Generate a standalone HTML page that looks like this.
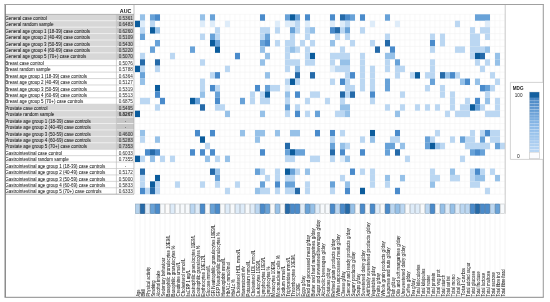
<!DOCTYPE html>
<html><head><meta charset="utf-8"><style>
html,body{margin:0;padding:0;background:#fff;}
body{width:550px;height:302px;position:relative;overflow:hidden;}
svg{position:absolute;left:0;top:0;}
text{font-family:"Liberation Sans",Arial,sans-serif;}
</style></head><body>
<svg width="550" height="302" viewBox="0 0 550 302">
<rect x="5.5" y="14.30" width="111" height="6.42" fill="#d7d7d7"/>
<rect x="116.5" y="14.30" width="17.5" height="6.42" fill="#c6c6c6"/>
<rect x="5.5" y="20.73" width="111" height="6.42" fill="#d7d7d7"/>
<rect x="116.5" y="20.73" width="17.5" height="6.42" fill="#c6c6c6"/>
<rect x="5.5" y="27.15" width="111" height="6.42" fill="#d7d7d7"/>
<rect x="116.5" y="27.15" width="17.5" height="6.42" fill="#c6c6c6"/>
<rect x="5.5" y="33.58" width="111" height="6.42" fill="#d7d7d7"/>
<rect x="116.5" y="33.58" width="17.5" height="6.42" fill="#c6c6c6"/>
<rect x="5.5" y="40.00" width="111" height="6.42" fill="#d7d7d7"/>
<rect x="116.5" y="40.00" width="17.5" height="6.42" fill="#c6c6c6"/>
<rect x="5.5" y="46.42" width="111" height="6.42" fill="#d7d7d7"/>
<rect x="116.5" y="46.42" width="17.5" height="6.42" fill="#c6c6c6"/>
<rect x="5.5" y="52.85" width="111" height="6.42" fill="#d7d7d7"/>
<rect x="116.5" y="52.85" width="17.5" height="6.42" fill="#c6c6c6"/>
<rect x="5.5" y="104.25" width="111" height="6.42" fill="#d7d7d7"/>
<rect x="116.5" y="104.25" width="17.5" height="6.42" fill="#c6c6c6"/>
<rect x="5.5" y="110.67" width="111" height="6.42" fill="#d7d7d7"/>
<rect x="116.5" y="110.67" width="17.5" height="6.42" fill="#c6c6c6"/>
<rect x="5.5" y="117.10" width="111" height="6.42" fill="#d7d7d7"/>
<rect x="116.5" y="117.10" width="17.5" height="6.42" fill="#c6c6c6"/>
<rect x="5.5" y="123.52" width="111" height="6.42" fill="#d7d7d7"/>
<rect x="116.5" y="123.52" width="17.5" height="6.42" fill="#c6c6c6"/>
<rect x="5.5" y="129.95" width="111" height="6.42" fill="#d7d7d7"/>
<rect x="116.5" y="129.95" width="17.5" height="6.42" fill="#c6c6c6"/>
<rect x="5.5" y="136.38" width="111" height="6.42" fill="#d7d7d7"/>
<rect x="116.5" y="136.38" width="17.5" height="6.42" fill="#c6c6c6"/>
<rect x="5.5" y="142.80" width="111" height="6.42" fill="#d7d7d7"/>
<rect x="116.5" y="142.80" width="17.5" height="6.42" fill="#c6c6c6"/>
<line x1="5.5" y1="20.73" x2="134" y2="20.73" stroke="#efefef" stroke-width="0.9"/>
<line x1="5.5" y1="27.15" x2="134" y2="27.15" stroke="#efefef" stroke-width="0.9"/>
<line x1="5.5" y1="33.58" x2="134" y2="33.58" stroke="#efefef" stroke-width="0.9"/>
<line x1="5.5" y1="40.00" x2="134" y2="40.00" stroke="#efefef" stroke-width="0.9"/>
<line x1="5.5" y1="46.42" x2="134" y2="46.42" stroke="#efefef" stroke-width="0.9"/>
<line x1="5.5" y1="52.85" x2="134" y2="52.85" stroke="#efefef" stroke-width="0.9"/>
<line x1="5.5" y1="59.28" x2="134" y2="59.28" stroke="#d2d2d2" stroke-width="0.9"/>
<line x1="5.5" y1="65.70" x2="134" y2="65.70" stroke="#d2d2d2" stroke-width="0.9"/>
<line x1="5.5" y1="72.12" x2="134" y2="72.12" stroke="#d2d2d2" stroke-width="0.9"/>
<line x1="5.5" y1="78.55" x2="134" y2="78.55" stroke="#d2d2d2" stroke-width="0.9"/>
<line x1="5.5" y1="84.97" x2="134" y2="84.97" stroke="#d2d2d2" stroke-width="0.9"/>
<line x1="5.5" y1="91.40" x2="134" y2="91.40" stroke="#d2d2d2" stroke-width="0.9"/>
<line x1="5.5" y1="97.82" x2="134" y2="97.82" stroke="#d2d2d2" stroke-width="0.9"/>
<line x1="5.5" y1="104.25" x2="134" y2="104.25" stroke="#d2d2d2" stroke-width="0.9"/>
<line x1="5.5" y1="110.67" x2="134" y2="110.67" stroke="#efefef" stroke-width="0.9"/>
<line x1="5.5" y1="117.10" x2="134" y2="117.10" stroke="#efefef" stroke-width="0.9"/>
<line x1="5.5" y1="123.52" x2="134" y2="123.52" stroke="#efefef" stroke-width="0.9"/>
<line x1="5.5" y1="129.95" x2="134" y2="129.95" stroke="#efefef" stroke-width="0.9"/>
<line x1="5.5" y1="136.38" x2="134" y2="136.38" stroke="#efefef" stroke-width="0.9"/>
<line x1="5.5" y1="142.80" x2="134" y2="142.80" stroke="#efefef" stroke-width="0.9"/>
<line x1="5.5" y1="149.22" x2="134" y2="149.22" stroke="#d2d2d2" stroke-width="0.9"/>
<line x1="5.5" y1="155.65" x2="134" y2="155.65" stroke="#d2d2d2" stroke-width="0.9"/>
<line x1="5.5" y1="162.08" x2="134" y2="162.08" stroke="#d2d2d2" stroke-width="0.9"/>
<line x1="5.5" y1="168.50" x2="134" y2="168.50" stroke="#d2d2d2" stroke-width="0.9"/>
<line x1="5.5" y1="174.93" x2="134" y2="174.93" stroke="#d2d2d2" stroke-width="0.9"/>
<line x1="5.5" y1="181.35" x2="134" y2="181.35" stroke="#d2d2d2" stroke-width="0.9"/>
<line x1="5.5" y1="187.78" x2="134" y2="187.78" stroke="#d2d2d2" stroke-width="0.9"/>
<line x1="116.4" y1="14.4" x2="116.4" y2="194.20" stroke="#c0c0c0" stroke-width="0.7"/>
<line x1="134" y1="4" x2="134" y2="194.20" stroke="#b0b0b0" stroke-width="0.8"/>
<line x1="5" y1="14.4" x2="134" y2="14.4" stroke="#a8a8a8" stroke-width="0.8"/>
<line x1="5" y1="194.20" x2="134" y2="194.20" stroke="#9a9a9a" stroke-width="0.8"/>
<text x="125.6" y="12.9" font-size="5.3" font-weight="bold" text-anchor="middle" fill="#111">AUC</text>
<text x="5.3" y="19.90" font-size="4.5" fill="#111" stroke="#111" stroke-width="0.03">General case control</text>
<text x="132.8" y="19.90" font-size="4.6" text-anchor="end" fill="#333" stroke="#333" stroke-width="0.03">0.5361</text>
<text x="5.3" y="26.33" font-size="4.5" fill="#111" stroke="#111" stroke-width="0.03">General random sample</text>
<text x="132.8" y="26.33" font-size="4.6" text-anchor="end" fill="#333" stroke="#333" stroke-width="0.03">0.6483</text>
<text x="5.3" y="32.75" font-size="4.5" fill="#111" stroke="#111" stroke-width="0.03">General age group 1 (18-39) case controls</text>
<text x="132.8" y="32.75" font-size="4.6" text-anchor="end" fill="#333" stroke="#333" stroke-width="0.03">0.6260</text>
<text x="5.3" y="39.18" font-size="4.5" fill="#111" stroke="#111" stroke-width="0.03">General age group 2 (40-49) case controls</text>
<text x="132.8" y="39.18" font-size="4.6" text-anchor="end" fill="#333" stroke="#333" stroke-width="0.03">0.5109</text>
<text x="5.3" y="45.60" font-size="4.5" fill="#111" stroke="#111" stroke-width="0.03">General age group 3 (50-59) case controls</text>
<text x="132.8" y="45.60" font-size="4.6" text-anchor="end" fill="#333" stroke="#333" stroke-width="0.03">0.5430</text>
<text x="5.3" y="52.02" font-size="4.5" fill="#111" stroke="#111" stroke-width="0.03">General age group 4 (60-69) case controls</text>
<text x="132.8" y="52.02" font-size="4.6" text-anchor="end" fill="#333" stroke="#333" stroke-width="0.03">0.5220</text>
<text x="5.3" y="58.45" font-size="4.5" fill="#111" stroke="#111" stroke-width="0.03">General age group 5 (70+) case controls</text>
<text x="132.8" y="58.45" font-size="4.6" text-anchor="end" fill="#333" stroke="#333" stroke-width="0.03">0.5070</text>
<text x="5.3" y="64.88" font-size="4.5" fill="#111" stroke="#111" stroke-width="0.03">Breast case control</text>
<text x="132.8" y="64.88" font-size="4.6" text-anchor="end" fill="#333" stroke="#333" stroke-width="0.03">0.5076</text>
<text x="5.3" y="71.30" font-size="4.5" fill="#111" stroke="#111" stroke-width="0.03">Breast random sample</text>
<text x="132.8" y="71.30" font-size="4.6" text-anchor="end" fill="#333" stroke="#333" stroke-width="0.03">0.5788</text>
<text x="5.3" y="77.72" font-size="4.5" fill="#111" stroke="#111" stroke-width="0.03">Breast age group 1 (18-39) case controls</text>
<text x="132.8" y="77.72" font-size="4.6" text-anchor="end" fill="#333" stroke="#333" stroke-width="0.03">0.6364</text>
<text x="5.3" y="84.15" font-size="4.5" fill="#111" stroke="#111" stroke-width="0.03">Breast age group 2 (40-49) case controls</text>
<text x="132.8" y="84.15" font-size="4.6" text-anchor="end" fill="#333" stroke="#333" stroke-width="0.03">0.5127</text>
<text x="5.3" y="90.57" font-size="4.5" fill="#111" stroke="#111" stroke-width="0.03">Breast age group 3 (50-59) case controls</text>
<text x="132.8" y="90.57" font-size="4.6" text-anchor="end" fill="#333" stroke="#333" stroke-width="0.03">0.5319</text>
<text x="5.3" y="97.00" font-size="4.5" fill="#111" stroke="#111" stroke-width="0.03">Breast age group 4 (60-69) case controls</text>
<text x="132.8" y="97.00" font-size="4.6" text-anchor="end" fill="#333" stroke="#333" stroke-width="0.03">0.5513</text>
<text x="5.3" y="103.42" font-size="4.5" fill="#111" stroke="#111" stroke-width="0.03">Breast age group 5 (70+) case controls</text>
<text x="132.8" y="103.42" font-size="4.6" text-anchor="end" fill="#333" stroke="#333" stroke-width="0.03">0.6875</text>
<text x="5.3" y="109.85" font-size="4.5" fill="#111" stroke="#111" stroke-width="0.03">Prostate case control</text>
<text x="132.8" y="109.85" font-size="4.6" text-anchor="end" fill="#333" stroke="#333" stroke-width="0.03">0.5495</text>
<text x="5.3" y="116.27" font-size="4.5" fill="#111" stroke="#111" stroke-width="0.03">Prostate random sample</text>
<text x="132.8" y="116.27" font-size="4.6" text-anchor="end" fill="#333" stroke="#333" stroke-width="0.03" font-weight="bold">0.8267</text>
<text x="5.3" y="122.70" font-size="4.5" fill="#111" stroke="#111" stroke-width="0.03">Prostate age group 1 (18-39) case controls</text>
<text x="125.4" y="122.70" font-size="4.45" text-anchor="middle" fill="#333">-</text>
<text x="5.3" y="129.12" font-size="4.5" fill="#111" stroke="#111" stroke-width="0.03">Prostate age group 2 (40-49) case controls</text>
<text x="125.4" y="129.12" font-size="4.45" text-anchor="middle" fill="#333">-</text>
<text x="5.3" y="135.55" font-size="4.5" fill="#111" stroke="#111" stroke-width="0.03">Prostate age group 3 (50-59) case controls</text>
<text x="132.8" y="135.55" font-size="4.6" text-anchor="end" fill="#333" stroke="#333" stroke-width="0.03">0.4600</text>
<text x="5.3" y="141.97" font-size="4.5" fill="#111" stroke="#111" stroke-width="0.03">Prostate age group 4 (60-69) case controls</text>
<text x="132.8" y="141.97" font-size="4.6" text-anchor="end" fill="#333" stroke="#333" stroke-width="0.03">0.5283</text>
<text x="5.3" y="148.40" font-size="4.5" fill="#111" stroke="#111" stroke-width="0.03">Prostate age group 5 (70+) case controls</text>
<text x="132.8" y="148.40" font-size="4.6" text-anchor="end" fill="#333" stroke="#333" stroke-width="0.03">0.7353</text>
<text x="5.3" y="154.82" font-size="4.5" fill="#111" stroke="#111" stroke-width="0.03">Gastrointestinal case control</text>
<text x="132.8" y="154.82" font-size="4.6" text-anchor="end" fill="#333" stroke="#333" stroke-width="0.03">0.6033</text>
<text x="5.3" y="161.25" font-size="4.5" fill="#111" stroke="#111" stroke-width="0.03">Gastrointestinal random sample</text>
<text x="132.8" y="161.25" font-size="4.6" text-anchor="end" fill="#333" stroke="#333" stroke-width="0.03">0.7355</text>
<text x="5.3" y="167.68" font-size="4.5" fill="#111" stroke="#111" stroke-width="0.03">Gastrointestinal age group 1 (18-39) case controls</text>
<text x="125.4" y="167.68" font-size="4.45" text-anchor="middle" fill="#333">-</text>
<text x="5.3" y="174.10" font-size="4.5" fill="#111" stroke="#111" stroke-width="0.03">Gastrointestinal age group 2 (40-49) case controls</text>
<text x="132.8" y="174.10" font-size="4.6" text-anchor="end" fill="#333" stroke="#333" stroke-width="0.03">0.5172</text>
<text x="5.3" y="180.53" font-size="4.5" fill="#111" stroke="#111" stroke-width="0.03">Gastrointestinal age group 3 (50-59) case controls</text>
<text x="132.8" y="180.53" font-size="4.6" text-anchor="end" fill="#333" stroke="#333" stroke-width="0.03">0.5000</text>
<text x="5.3" y="186.95" font-size="4.5" fill="#111" stroke="#111" stroke-width="0.03">Gastrointestinal age group 4 (60-69) case controls</text>
<text x="132.8" y="186.95" font-size="4.6" text-anchor="end" fill="#333" stroke="#333" stroke-width="0.03">0.5833</text>
<text x="5.3" y="193.38" font-size="4.5" fill="#111" stroke="#111" stroke-width="0.03">Gastrointestinal age group 5 (70+) case controls</text>
<text x="132.8" y="193.38" font-size="4.6" text-anchor="end" fill="#333" stroke="#333" stroke-width="0.03">0.6333</text>
<line x1="135.0" y1="14.3" x2="135.0" y2="194.20" stroke="#f3f3f3" stroke-width="0.6"/>
<line x1="140.0" y1="14.3" x2="140.0" y2="194.20" stroke="#f3f3f3" stroke-width="0.6"/>
<line x1="145.0" y1="14.3" x2="145.0" y2="194.20" stroke="#f3f3f3" stroke-width="0.6"/>
<line x1="150.0" y1="14.3" x2="150.0" y2="194.20" stroke="#f3f3f3" stroke-width="0.6"/>
<line x1="155.0" y1="14.3" x2="155.0" y2="194.20" stroke="#f3f3f3" stroke-width="0.6"/>
<line x1="160.0" y1="14.3" x2="160.0" y2="194.20" stroke="#f3f3f3" stroke-width="0.6"/>
<line x1="165.0" y1="14.3" x2="165.0" y2="194.20" stroke="#f3f3f3" stroke-width="0.6"/>
<line x1="170.0" y1="14.3" x2="170.0" y2="194.20" stroke="#f3f3f3" stroke-width="0.6"/>
<line x1="175.0" y1="14.3" x2="175.0" y2="194.20" stroke="#f3f3f3" stroke-width="0.6"/>
<line x1="180.0" y1="14.3" x2="180.0" y2="194.20" stroke="#f3f3f3" stroke-width="0.6"/>
<line x1="185.0" y1="14.3" x2="185.0" y2="194.20" stroke="#f3f3f3" stroke-width="0.6"/>
<line x1="190.0" y1="14.3" x2="190.0" y2="194.20" stroke="#f3f3f3" stroke-width="0.6"/>
<line x1="195.0" y1="14.3" x2="195.0" y2="194.20" stroke="#f3f3f3" stroke-width="0.6"/>
<line x1="200.0" y1="14.3" x2="200.0" y2="194.20" stroke="#f3f3f3" stroke-width="0.6"/>
<line x1="205.0" y1="14.3" x2="205.0" y2="194.20" stroke="#f3f3f3" stroke-width="0.6"/>
<line x1="210.0" y1="14.3" x2="210.0" y2="194.20" stroke="#f3f3f3" stroke-width="0.6"/>
<line x1="215.0" y1="14.3" x2="215.0" y2="194.20" stroke="#f3f3f3" stroke-width="0.6"/>
<line x1="220.0" y1="14.3" x2="220.0" y2="194.20" stroke="#f3f3f3" stroke-width="0.6"/>
<line x1="225.0" y1="14.3" x2="225.0" y2="194.20" stroke="#f3f3f3" stroke-width="0.6"/>
<line x1="230.0" y1="14.3" x2="230.0" y2="194.20" stroke="#f3f3f3" stroke-width="0.6"/>
<line x1="235.0" y1="14.3" x2="235.0" y2="194.20" stroke="#f3f3f3" stroke-width="0.6"/>
<line x1="240.0" y1="14.3" x2="240.0" y2="194.20" stroke="#f3f3f3" stroke-width="0.6"/>
<line x1="245.0" y1="14.3" x2="245.0" y2="194.20" stroke="#f3f3f3" stroke-width="0.6"/>
<line x1="250.0" y1="14.3" x2="250.0" y2="194.20" stroke="#f3f3f3" stroke-width="0.6"/>
<line x1="255.0" y1="14.3" x2="255.0" y2="194.20" stroke="#f3f3f3" stroke-width="0.6"/>
<line x1="260.0" y1="14.3" x2="260.0" y2="194.20" stroke="#f3f3f3" stroke-width="0.6"/>
<line x1="265.0" y1="14.3" x2="265.0" y2="194.20" stroke="#f3f3f3" stroke-width="0.6"/>
<line x1="270.0" y1="14.3" x2="270.0" y2="194.20" stroke="#f3f3f3" stroke-width="0.6"/>
<line x1="275.0" y1="14.3" x2="275.0" y2="194.20" stroke="#f3f3f3" stroke-width="0.6"/>
<line x1="280.0" y1="14.3" x2="280.0" y2="194.20" stroke="#f3f3f3" stroke-width="0.6"/>
<line x1="285.0" y1="14.3" x2="285.0" y2="194.20" stroke="#f3f3f3" stroke-width="0.6"/>
<line x1="290.0" y1="14.3" x2="290.0" y2="194.20" stroke="#f3f3f3" stroke-width="0.6"/>
<line x1="295.0" y1="14.3" x2="295.0" y2="194.20" stroke="#f3f3f3" stroke-width="0.6"/>
<line x1="300.0" y1="14.3" x2="300.0" y2="194.20" stroke="#f3f3f3" stroke-width="0.6"/>
<line x1="305.0" y1="14.3" x2="305.0" y2="194.20" stroke="#f3f3f3" stroke-width="0.6"/>
<line x1="310.0" y1="14.3" x2="310.0" y2="194.20" stroke="#f3f3f3" stroke-width="0.6"/>
<line x1="315.0" y1="14.3" x2="315.0" y2="194.20" stroke="#f3f3f3" stroke-width="0.6"/>
<line x1="320.0" y1="14.3" x2="320.0" y2="194.20" stroke="#f3f3f3" stroke-width="0.6"/>
<line x1="325.0" y1="14.3" x2="325.0" y2="194.20" stroke="#f3f3f3" stroke-width="0.6"/>
<line x1="330.0" y1="14.3" x2="330.0" y2="194.20" stroke="#f3f3f3" stroke-width="0.6"/>
<line x1="335.0" y1="14.3" x2="335.0" y2="194.20" stroke="#f3f3f3" stroke-width="0.6"/>
<line x1="340.0" y1="14.3" x2="340.0" y2="194.20" stroke="#f3f3f3" stroke-width="0.6"/>
<line x1="345.0" y1="14.3" x2="345.0" y2="194.20" stroke="#f3f3f3" stroke-width="0.6"/>
<line x1="350.0" y1="14.3" x2="350.0" y2="194.20" stroke="#f3f3f3" stroke-width="0.6"/>
<line x1="355.0" y1="14.3" x2="355.0" y2="194.20" stroke="#f3f3f3" stroke-width="0.6"/>
<line x1="360.0" y1="14.3" x2="360.0" y2="194.20" stroke="#f3f3f3" stroke-width="0.6"/>
<line x1="365.0" y1="14.3" x2="365.0" y2="194.20" stroke="#f3f3f3" stroke-width="0.6"/>
<line x1="370.0" y1="14.3" x2="370.0" y2="194.20" stroke="#f3f3f3" stroke-width="0.6"/>
<line x1="375.0" y1="14.3" x2="375.0" y2="194.20" stroke="#f3f3f3" stroke-width="0.6"/>
<line x1="380.0" y1="14.3" x2="380.0" y2="194.20" stroke="#f3f3f3" stroke-width="0.6"/>
<line x1="385.0" y1="14.3" x2="385.0" y2="194.20" stroke="#f3f3f3" stroke-width="0.6"/>
<line x1="390.0" y1="14.3" x2="390.0" y2="194.20" stroke="#f3f3f3" stroke-width="0.6"/>
<line x1="395.0" y1="14.3" x2="395.0" y2="194.20" stroke="#f3f3f3" stroke-width="0.6"/>
<line x1="400.0" y1="14.3" x2="400.0" y2="194.20" stroke="#f3f3f3" stroke-width="0.6"/>
<line x1="405.0" y1="14.3" x2="405.0" y2="194.20" stroke="#f3f3f3" stroke-width="0.6"/>
<line x1="410.0" y1="14.3" x2="410.0" y2="194.20" stroke="#f3f3f3" stroke-width="0.6"/>
<line x1="415.0" y1="14.3" x2="415.0" y2="194.20" stroke="#f3f3f3" stroke-width="0.6"/>
<line x1="420.0" y1="14.3" x2="420.0" y2="194.20" stroke="#f3f3f3" stroke-width="0.6"/>
<line x1="425.0" y1="14.3" x2="425.0" y2="194.20" stroke="#f3f3f3" stroke-width="0.6"/>
<line x1="430.0" y1="14.3" x2="430.0" y2="194.20" stroke="#f3f3f3" stroke-width="0.6"/>
<line x1="435.0" y1="14.3" x2="435.0" y2="194.20" stroke="#f3f3f3" stroke-width="0.6"/>
<line x1="440.0" y1="14.3" x2="440.0" y2="194.20" stroke="#f3f3f3" stroke-width="0.6"/>
<line x1="445.0" y1="14.3" x2="445.0" y2="194.20" stroke="#f3f3f3" stroke-width="0.6"/>
<line x1="450.0" y1="14.3" x2="450.0" y2="194.20" stroke="#f3f3f3" stroke-width="0.6"/>
<line x1="455.0" y1="14.3" x2="455.0" y2="194.20" stroke="#f3f3f3" stroke-width="0.6"/>
<line x1="460.0" y1="14.3" x2="460.0" y2="194.20" stroke="#f3f3f3" stroke-width="0.6"/>
<line x1="465.0" y1="14.3" x2="465.0" y2="194.20" stroke="#f3f3f3" stroke-width="0.6"/>
<line x1="470.0" y1="14.3" x2="470.0" y2="194.20" stroke="#f3f3f3" stroke-width="0.6"/>
<line x1="475.0" y1="14.3" x2="475.0" y2="194.20" stroke="#f3f3f3" stroke-width="0.6"/>
<line x1="480.0" y1="14.3" x2="480.0" y2="194.20" stroke="#f3f3f3" stroke-width="0.6"/>
<line x1="485.0" y1="14.3" x2="485.0" y2="194.20" stroke="#f3f3f3" stroke-width="0.6"/>
<line x1="490.0" y1="14.3" x2="490.0" y2="194.20" stroke="#f3f3f3" stroke-width="0.6"/>
<line x1="495.0" y1="14.3" x2="495.0" y2="194.20" stroke="#f3f3f3" stroke-width="0.6"/>
<line x1="500.0" y1="14.3" x2="500.0" y2="194.20" stroke="#f3f3f3" stroke-width="0.6"/>
<line x1="505.0" y1="14.3" x2="505.0" y2="194.20" stroke="#f3f3f3" stroke-width="0.6"/>
<line x1="135.0" y1="14.30" x2="505.0" y2="14.30" stroke="#f3f3f3" stroke-width="0.6"/>
<line x1="135.0" y1="20.73" x2="505.0" y2="20.73" stroke="#f3f3f3" stroke-width="0.6"/>
<line x1="135.0" y1="27.15" x2="505.0" y2="27.15" stroke="#f3f3f3" stroke-width="0.6"/>
<line x1="135.0" y1="33.58" x2="505.0" y2="33.58" stroke="#f3f3f3" stroke-width="0.6"/>
<line x1="135.0" y1="40.00" x2="505.0" y2="40.00" stroke="#f3f3f3" stroke-width="0.6"/>
<line x1="135.0" y1="46.42" x2="505.0" y2="46.42" stroke="#f3f3f3" stroke-width="0.6"/>
<line x1="135.0" y1="52.85" x2="505.0" y2="52.85" stroke="#f3f3f3" stroke-width="0.6"/>
<line x1="135.0" y1="59.28" x2="505.0" y2="59.28" stroke="#f3f3f3" stroke-width="0.6"/>
<line x1="135.0" y1="65.70" x2="505.0" y2="65.70" stroke="#f3f3f3" stroke-width="0.6"/>
<line x1="135.0" y1="72.12" x2="505.0" y2="72.12" stroke="#f3f3f3" stroke-width="0.6"/>
<line x1="135.0" y1="78.55" x2="505.0" y2="78.55" stroke="#f3f3f3" stroke-width="0.6"/>
<line x1="135.0" y1="84.97" x2="505.0" y2="84.97" stroke="#f3f3f3" stroke-width="0.6"/>
<line x1="135.0" y1="91.40" x2="505.0" y2="91.40" stroke="#f3f3f3" stroke-width="0.6"/>
<line x1="135.0" y1="97.82" x2="505.0" y2="97.82" stroke="#f3f3f3" stroke-width="0.6"/>
<line x1="135.0" y1="104.25" x2="505.0" y2="104.25" stroke="#f3f3f3" stroke-width="0.6"/>
<line x1="135.0" y1="110.67" x2="505.0" y2="110.67" stroke="#f3f3f3" stroke-width="0.6"/>
<line x1="135.0" y1="117.10" x2="505.0" y2="117.10" stroke="#f3f3f3" stroke-width="0.6"/>
<line x1="135.0" y1="123.52" x2="505.0" y2="123.52" stroke="#f3f3f3" stroke-width="0.6"/>
<line x1="135.0" y1="129.95" x2="505.0" y2="129.95" stroke="#f3f3f3" stroke-width="0.6"/>
<line x1="135.0" y1="136.38" x2="505.0" y2="136.38" stroke="#f3f3f3" stroke-width="0.6"/>
<line x1="135.0" y1="142.80" x2="505.0" y2="142.80" stroke="#f3f3f3" stroke-width="0.6"/>
<line x1="135.0" y1="149.22" x2="505.0" y2="149.22" stroke="#f3f3f3" stroke-width="0.6"/>
<line x1="135.0" y1="155.65" x2="505.0" y2="155.65" stroke="#f3f3f3" stroke-width="0.6"/>
<line x1="135.0" y1="162.08" x2="505.0" y2="162.08" stroke="#f3f3f3" stroke-width="0.6"/>
<line x1="135.0" y1="168.50" x2="505.0" y2="168.50" stroke="#f3f3f3" stroke-width="0.6"/>
<line x1="135.0" y1="174.93" x2="505.0" y2="174.93" stroke="#f3f3f3" stroke-width="0.6"/>
<line x1="135.0" y1="181.35" x2="505.0" y2="181.35" stroke="#f3f3f3" stroke-width="0.6"/>
<line x1="135.0" y1="187.78" x2="505.0" y2="187.78" stroke="#f3f3f3" stroke-width="0.6"/>
<line x1="135.0" y1="194.20" x2="505.0" y2="194.20" stroke="#f3f3f3" stroke-width="0.6"/>
<rect x="140.0" y="14.30" width="5.0" height="6.42" fill="#96c1e8"/>
<rect x="150.0" y="14.30" width="5.0" height="6.42" fill="#68a2d8"/>
<rect x="155.0" y="14.30" width="5.0" height="6.42" fill="#4a8bcb"/>
<rect x="200.0" y="14.30" width="5.0" height="6.42" fill="#96c1e8"/>
<rect x="210.0" y="14.30" width="5.0" height="6.42" fill="#68a2d8"/>
<rect x="260.0" y="14.30" width="5.0" height="6.42" fill="#4a8bcb"/>
<rect x="285.0" y="14.30" width="5.0" height="6.42" fill="#68a2d8"/>
<rect x="290.0" y="14.30" width="5.0" height="6.42" fill="#0c5c9c"/>
<rect x="295.0" y="14.30" width="5.0" height="6.42" fill="#68a2d8"/>
<rect x="305.0" y="14.30" width="5.0" height="6.42" fill="#4a8bcb"/>
<rect x="330.0" y="14.30" width="5.0" height="6.42" fill="#4a8bcb"/>
<rect x="340.0" y="14.30" width="5.0" height="6.42" fill="#256aa9"/>
<rect x="345.0" y="14.30" width="5.0" height="6.42" fill="#4a8bcb"/>
<rect x="350.0" y="14.30" width="5.0" height="6.42" fill="#68a2d8"/>
<rect x="360.0" y="14.30" width="5.0" height="6.42" fill="#4a8bcb"/>
<rect x="385.0" y="14.30" width="5.0" height="6.42" fill="#68a2d8"/>
<rect x="475.0" y="14.30" width="5.0" height="6.42" fill="#68a2d8"/>
<rect x="480.0" y="14.30" width="5.0" height="6.42" fill="#68a2d8"/>
<rect x="485.0" y="14.30" width="5.0" height="6.42" fill="#68a2d8"/>
<rect x="135.0" y="20.73" width="5.0" height="6.42" fill="#0c5c9c"/>
<rect x="140.0" y="20.73" width="5.0" height="6.42" fill="#deecf9"/>
<rect x="150.0" y="20.73" width="5.0" height="6.42" fill="#bbd7f2"/>
<rect x="200.0" y="20.73" width="5.0" height="6.42" fill="#deecf9"/>
<rect x="210.0" y="20.73" width="5.0" height="6.42" fill="#deecf9"/>
<rect x="225.0" y="20.73" width="5.0" height="6.42" fill="#deecf9"/>
<rect x="275.0" y="20.73" width="5.0" height="6.42" fill="#deecf9"/>
<rect x="285.0" y="20.73" width="5.0" height="6.42" fill="#deecf9"/>
<rect x="290.0" y="20.73" width="5.0" height="6.42" fill="#deecf9"/>
<rect x="295.0" y="20.73" width="5.0" height="6.42" fill="#bbd7f2"/>
<rect x="305.0" y="20.73" width="5.0" height="6.42" fill="#deecf9"/>
<rect x="330.0" y="20.73" width="5.0" height="6.42" fill="#deecf9"/>
<rect x="340.0" y="20.73" width="5.0" height="6.42" fill="#deecf9"/>
<rect x="345.0" y="20.73" width="5.0" height="6.42" fill="#bbd7f2"/>
<rect x="370.0" y="20.73" width="5.0" height="6.42" fill="#deecf9"/>
<rect x="395.0" y="20.73" width="5.0" height="6.42" fill="#deecf9"/>
<rect x="455.0" y="20.73" width="5.0" height="6.42" fill="#bbd7f2"/>
<rect x="485.0" y="20.73" width="5.0" height="6.42" fill="#deecf9"/>
<rect x="140.0" y="27.15" width="5.0" height="6.42" fill="#bbd7f2"/>
<rect x="150.0" y="27.15" width="5.0" height="6.42" fill="#0c5c9c"/>
<rect x="155.0" y="27.15" width="5.0" height="6.42" fill="#96c1e8"/>
<rect x="215.0" y="27.15" width="5.0" height="6.42" fill="#bbd7f2"/>
<rect x="260.0" y="27.15" width="5.0" height="6.42" fill="#bbd7f2"/>
<rect x="265.0" y="27.15" width="5.0" height="6.42" fill="#bbd7f2"/>
<rect x="275.0" y="27.15" width="5.0" height="6.42" fill="#bbd7f2"/>
<rect x="290.0" y="27.15" width="5.0" height="6.42" fill="#68a2d8"/>
<rect x="295.0" y="27.15" width="5.0" height="6.42" fill="#bbd7f2"/>
<rect x="305.0" y="27.15" width="5.0" height="6.42" fill="#bbd7f2"/>
<rect x="310.0" y="27.15" width="5.0" height="6.42" fill="#96c1e8"/>
<rect x="330.0" y="27.15" width="5.0" height="6.42" fill="#4a8bcb"/>
<rect x="335.0" y="27.15" width="5.0" height="6.42" fill="#256aa9"/>
<rect x="340.0" y="27.15" width="5.0" height="6.42" fill="#bbd7f2"/>
<rect x="345.0" y="27.15" width="5.0" height="6.42" fill="#68a2d8"/>
<rect x="360.0" y="27.15" width="5.0" height="6.42" fill="#bbd7f2"/>
<rect x="470.0" y="27.15" width="5.0" height="6.42" fill="#bbd7f2"/>
<rect x="480.0" y="27.15" width="5.0" height="6.42" fill="#bbd7f2"/>
<rect x="485.0" y="27.15" width="5.0" height="6.42" fill="#bbd7f2"/>
<rect x="140.0" y="33.58" width="5.0" height="6.42" fill="#68a2d8"/>
<rect x="200.0" y="33.58" width="5.0" height="6.42" fill="#bbd7f2"/>
<rect x="210.0" y="33.58" width="5.0" height="6.42" fill="#68a2d8"/>
<rect x="215.0" y="33.58" width="5.0" height="6.42" fill="#bbd7f2"/>
<rect x="260.0" y="33.58" width="5.0" height="6.42" fill="#bbd7f2"/>
<rect x="265.0" y="33.58" width="5.0" height="6.42" fill="#68a2d8"/>
<rect x="290.0" y="33.58" width="5.0" height="6.42" fill="#bbd7f2"/>
<rect x="305.0" y="33.58" width="5.0" height="6.42" fill="#bbd7f2"/>
<rect x="335.0" y="33.58" width="5.0" height="6.42" fill="#bbd7f2"/>
<rect x="345.0" y="33.58" width="5.0" height="6.42" fill="#bbd7f2"/>
<rect x="385.0" y="33.58" width="5.0" height="6.42" fill="#bbd7f2"/>
<rect x="430.0" y="33.58" width="5.0" height="6.42" fill="#bbd7f2"/>
<rect x="440.0" y="33.58" width="5.0" height="6.42" fill="#bbd7f2"/>
<rect x="470.0" y="33.58" width="5.0" height="6.42" fill="#bbd7f2"/>
<rect x="475.0" y="33.58" width="5.0" height="6.42" fill="#bbd7f2"/>
<rect x="485.0" y="33.58" width="5.0" height="6.42" fill="#bbd7f2"/>
<rect x="155.0" y="40.00" width="5.0" height="6.42" fill="#68a2d8"/>
<rect x="210.0" y="40.00" width="5.0" height="6.42" fill="#0c5c9c"/>
<rect x="215.0" y="40.00" width="5.0" height="6.42" fill="#68a2d8"/>
<rect x="260.0" y="40.00" width="5.0" height="6.42" fill="#68a2d8"/>
<rect x="265.0" y="40.00" width="5.0" height="6.42" fill="#4a8bcb"/>
<rect x="275.0" y="40.00" width="5.0" height="6.42" fill="#bbd7f2"/>
<rect x="285.0" y="40.00" width="5.0" height="6.42" fill="#bbd7f2"/>
<rect x="290.0" y="40.00" width="5.0" height="6.42" fill="#bbd7f2"/>
<rect x="300.0" y="40.00" width="5.0" height="6.42" fill="#bbd7f2"/>
<rect x="310.0" y="40.00" width="5.0" height="6.42" fill="#bbd7f2"/>
<rect x="330.0" y="40.00" width="5.0" height="6.42" fill="#96c1e8"/>
<rect x="350.0" y="40.00" width="5.0" height="6.42" fill="#bbd7f2"/>
<rect x="370.0" y="40.00" width="5.0" height="6.42" fill="#bbd7f2"/>
<rect x="385.0" y="40.00" width="5.0" height="6.42" fill="#256aa9"/>
<rect x="430.0" y="40.00" width="5.0" height="6.42" fill="#4a8bcb"/>
<rect x="440.0" y="40.00" width="5.0" height="6.42" fill="#bbd7f2"/>
<rect x="470.0" y="40.00" width="5.0" height="6.42" fill="#bbd7f2"/>
<rect x="475.0" y="40.00" width="5.0" height="6.42" fill="#bbd7f2"/>
<rect x="150.0" y="46.42" width="5.0" height="6.42" fill="#68a2d8"/>
<rect x="190.0" y="46.42" width="5.0" height="6.42" fill="#68a2d8"/>
<rect x="215.0" y="46.42" width="5.0" height="6.42" fill="#0c5c9c"/>
<rect x="260.0" y="46.42" width="5.0" height="6.42" fill="#96c1e8"/>
<rect x="285.0" y="46.42" width="5.0" height="6.42" fill="#bbd7f2"/>
<rect x="290.0" y="46.42" width="5.0" height="6.42" fill="#96c1e8"/>
<rect x="295.0" y="46.42" width="5.0" height="6.42" fill="#bbd7f2"/>
<rect x="305.0" y="46.42" width="5.0" height="6.42" fill="#bbd7f2"/>
<rect x="340.0" y="46.42" width="5.0" height="6.42" fill="#bbd7f2"/>
<rect x="375.0" y="46.42" width="5.0" height="6.42" fill="#256aa9"/>
<rect x="390.0" y="46.42" width="5.0" height="6.42" fill="#4a8bcb"/>
<rect x="430.0" y="46.42" width="5.0" height="6.42" fill="#bbd7f2"/>
<rect x="455.0" y="46.42" width="5.0" height="6.42" fill="#bbd7f2"/>
<rect x="460.0" y="46.42" width="5.0" height="6.42" fill="#bbd7f2"/>
<rect x="470.0" y="46.42" width="5.0" height="6.42" fill="#bbd7f2"/>
<rect x="475.0" y="46.42" width="5.0" height="6.42" fill="#bbd7f2"/>
<rect x="480.0" y="46.42" width="5.0" height="6.42" fill="#bbd7f2"/>
<rect x="485.0" y="46.42" width="5.0" height="6.42" fill="#96c1e8"/>
<rect x="140.0" y="52.85" width="5.0" height="6.42" fill="#bbd7f2"/>
<rect x="170.0" y="52.85" width="5.0" height="6.42" fill="#bbd7f2"/>
<rect x="235.0" y="52.85" width="5.0" height="6.42" fill="#4a8bcb"/>
<rect x="265.0" y="52.85" width="5.0" height="6.42" fill="#96c1e8"/>
<rect x="285.0" y="52.85" width="5.0" height="6.42" fill="#bbd7f2"/>
<rect x="305.0" y="52.85" width="5.0" height="6.42" fill="#bbd7f2"/>
<rect x="310.0" y="52.85" width="5.0" height="6.42" fill="#0c5c9c"/>
<rect x="330.0" y="52.85" width="5.0" height="6.42" fill="#bbd7f2"/>
<rect x="335.0" y="52.85" width="5.0" height="6.42" fill="#bbd7f2"/>
<rect x="340.0" y="52.85" width="5.0" height="6.42" fill="#bbd7f2"/>
<rect x="345.0" y="52.85" width="5.0" height="6.42" fill="#bbd7f2"/>
<rect x="360.0" y="52.85" width="5.0" height="6.42" fill="#bbd7f2"/>
<rect x="385.0" y="52.85" width="5.0" height="6.42" fill="#96c1e8"/>
<rect x="390.0" y="52.85" width="5.0" height="6.42" fill="#96c1e8"/>
<rect x="470.0" y="52.85" width="5.0" height="6.42" fill="#bbd7f2"/>
<rect x="475.0" y="52.85" width="5.0" height="6.42" fill="#0c5c9c"/>
<rect x="480.0" y="52.85" width="5.0" height="6.42" fill="#256aa9"/>
<rect x="495.0" y="52.85" width="5.0" height="6.42" fill="#96c1e8"/>
<rect x="140.0" y="59.28" width="5.0" height="6.42" fill="#256aa9"/>
<rect x="155.0" y="59.28" width="5.0" height="6.42" fill="#256aa9"/>
<rect x="200.0" y="59.28" width="5.0" height="6.42" fill="#bbd7f2"/>
<rect x="260.0" y="59.28" width="5.0" height="6.42" fill="#96c1e8"/>
<rect x="285.0" y="59.28" width="5.0" height="6.42" fill="#bbd7f2"/>
<rect x="290.0" y="59.28" width="5.0" height="6.42" fill="#bbd7f2"/>
<rect x="295.0" y="59.28" width="5.0" height="6.42" fill="#bbd7f2"/>
<rect x="305.0" y="59.28" width="5.0" height="6.42" fill="#bbd7f2"/>
<rect x="310.0" y="59.28" width="5.0" height="6.42" fill="#bbd7f2"/>
<rect x="330.0" y="59.28" width="5.0" height="6.42" fill="#bbd7f2"/>
<rect x="340.0" y="59.28" width="5.0" height="6.42" fill="#96c1e8"/>
<rect x="345.0" y="59.28" width="5.0" height="6.42" fill="#96c1e8"/>
<rect x="360.0" y="59.28" width="5.0" height="6.42" fill="#bbd7f2"/>
<rect x="385.0" y="59.28" width="5.0" height="6.42" fill="#bbd7f2"/>
<rect x="395.0" y="59.28" width="5.0" height="6.42" fill="#68a2d8"/>
<rect x="430.0" y="59.28" width="5.0" height="6.42" fill="#bbd7f2"/>
<rect x="475.0" y="59.28" width="5.0" height="6.42" fill="#bbd7f2"/>
<rect x="485.0" y="59.28" width="5.0" height="6.42" fill="#bbd7f2"/>
<rect x="495.0" y="59.28" width="5.0" height="6.42" fill="#96c1e8"/>
<rect x="135.0" y="65.70" width="5.0" height="6.42" fill="#0c5c9c"/>
<rect x="140.0" y="65.70" width="5.0" height="6.42" fill="#bbd7f2"/>
<rect x="155.0" y="65.70" width="5.0" height="6.42" fill="#bbd7f2"/>
<rect x="225.0" y="65.70" width="5.0" height="6.42" fill="#bbd7f2"/>
<rect x="285.0" y="65.70" width="5.0" height="6.42" fill="#bbd7f2"/>
<rect x="295.0" y="65.70" width="5.0" height="6.42" fill="#96c1e8"/>
<rect x="330.0" y="65.70" width="5.0" height="6.42" fill="#deecf9"/>
<rect x="335.0" y="65.70" width="5.0" height="6.42" fill="#bbd7f2"/>
<rect x="340.0" y="65.70" width="5.0" height="6.42" fill="#bbd7f2"/>
<rect x="345.0" y="65.70" width="5.0" height="6.42" fill="#bbd7f2"/>
<rect x="360.0" y="65.70" width="5.0" height="6.42" fill="#bbd7f2"/>
<rect x="370.0" y="65.70" width="5.0" height="6.42" fill="#bbd7f2"/>
<rect x="385.0" y="65.70" width="5.0" height="6.42" fill="#bbd7f2"/>
<rect x="395.0" y="65.70" width="5.0" height="6.42" fill="#bbd7f2"/>
<rect x="400.0" y="65.70" width="5.0" height="6.42" fill="#bbd7f2"/>
<rect x="430.0" y="65.70" width="5.0" height="6.42" fill="#bbd7f2"/>
<rect x="480.0" y="65.70" width="5.0" height="6.42" fill="#bbd7f2"/>
<rect x="140.0" y="72.12" width="5.0" height="6.42" fill="#68a2d8"/>
<rect x="210.0" y="72.12" width="5.0" height="6.42" fill="#bbd7f2"/>
<rect x="215.0" y="72.12" width="5.0" height="6.42" fill="#4a8bcb"/>
<rect x="265.0" y="72.12" width="5.0" height="6.42" fill="#96c1e8"/>
<rect x="295.0" y="72.12" width="5.0" height="6.42" fill="#256aa9"/>
<rect x="310.0" y="72.12" width="5.0" height="6.42" fill="#256aa9"/>
<rect x="345.0" y="72.12" width="5.0" height="6.42" fill="#bbd7f2"/>
<rect x="350.0" y="72.12" width="5.0" height="6.42" fill="#4a8bcb"/>
<rect x="360.0" y="72.12" width="5.0" height="6.42" fill="#bbd7f2"/>
<rect x="370.0" y="72.12" width="5.0" height="6.42" fill="#bbd7f2"/>
<rect x="395.0" y="72.12" width="5.0" height="6.42" fill="#bbd7f2"/>
<rect x="410.0" y="72.12" width="5.0" height="6.42" fill="#bbd7f2"/>
<rect x="415.0" y="72.12" width="5.0" height="6.42" fill="#0c5c9c"/>
<rect x="425.0" y="72.12" width="5.0" height="6.42" fill="#bbd7f2"/>
<rect x="430.0" y="72.12" width="5.0" height="6.42" fill="#bbd7f2"/>
<rect x="440.0" y="72.12" width="5.0" height="6.42" fill="#256aa9"/>
<rect x="445.0" y="72.12" width="5.0" height="6.42" fill="#96c1e8"/>
<rect x="450.0" y="72.12" width="5.0" height="6.42" fill="#4a8bcb"/>
<rect x="455.0" y="72.12" width="5.0" height="6.42" fill="#bbd7f2"/>
<rect x="490.0" y="72.12" width="5.0" height="6.42" fill="#bbd7f2"/>
<rect x="140.0" y="78.55" width="5.0" height="6.42" fill="#96c1e8"/>
<rect x="200.0" y="78.55" width="5.0" height="6.42" fill="#bbd7f2"/>
<rect x="285.0" y="78.55" width="5.0" height="6.42" fill="#bbd7f2"/>
<rect x="290.0" y="78.55" width="5.0" height="6.42" fill="#0c5c9c"/>
<rect x="295.0" y="78.55" width="5.0" height="6.42" fill="#bbd7f2"/>
<rect x="330.0" y="78.55" width="5.0" height="6.42" fill="#bbd7f2"/>
<rect x="340.0" y="78.55" width="5.0" height="6.42" fill="#4a8bcb"/>
<rect x="345.0" y="78.55" width="5.0" height="6.42" fill="#bbd7f2"/>
<rect x="360.0" y="78.55" width="5.0" height="6.42" fill="#bbd7f2"/>
<rect x="370.0" y="78.55" width="5.0" height="6.42" fill="#bbd7f2"/>
<rect x="385.0" y="78.55" width="5.0" height="6.42" fill="#68a2d8"/>
<rect x="430.0" y="78.55" width="5.0" height="6.42" fill="#68a2d8"/>
<rect x="460.0" y="78.55" width="5.0" height="6.42" fill="#96c1e8"/>
<rect x="465.0" y="78.55" width="5.0" height="6.42" fill="#4a8bcb"/>
<rect x="475.0" y="78.55" width="5.0" height="6.42" fill="#96c1e8"/>
<rect x="495.0" y="78.55" width="5.0" height="6.42" fill="#bbd7f2"/>
<rect x="155.0" y="84.97" width="5.0" height="6.42" fill="#0c5c9c"/>
<rect x="200.0" y="84.97" width="5.0" height="6.42" fill="#bbd7f2"/>
<rect x="210.0" y="84.97" width="5.0" height="6.42" fill="#4a8bcb"/>
<rect x="215.0" y="84.97" width="5.0" height="6.42" fill="#bbd7f2"/>
<rect x="255.0" y="84.97" width="5.0" height="6.42" fill="#4a8bcb"/>
<rect x="265.0" y="84.97" width="5.0" height="6.42" fill="#68a2d8"/>
<rect x="270.0" y="84.97" width="5.0" height="6.42" fill="#bbd7f2"/>
<rect x="275.0" y="84.97" width="5.0" height="6.42" fill="#bbd7f2"/>
<rect x="285.0" y="84.97" width="5.0" height="6.42" fill="#deecf9"/>
<rect x="345.0" y="84.97" width="5.0" height="6.42" fill="#bbd7f2"/>
<rect x="350.0" y="84.97" width="5.0" height="6.42" fill="#bbd7f2"/>
<rect x="360.0" y="84.97" width="5.0" height="6.42" fill="#bbd7f2"/>
<rect x="370.0" y="84.97" width="5.0" height="6.42" fill="#bbd7f2"/>
<rect x="385.0" y="84.97" width="5.0" height="6.42" fill="#68a2d8"/>
<rect x="425.0" y="84.97" width="5.0" height="6.42" fill="#bbd7f2"/>
<rect x="440.0" y="84.97" width="5.0" height="6.42" fill="#bbd7f2"/>
<rect x="480.0" y="84.97" width="5.0" height="6.42" fill="#4a8bcb"/>
<rect x="485.0" y="84.97" width="5.0" height="6.42" fill="#68a2d8"/>
<rect x="490.0" y="84.97" width="5.0" height="6.42" fill="#bbd7f2"/>
<rect x="155.0" y="91.40" width="5.0" height="6.42" fill="#4a8bcb"/>
<rect x="200.0" y="91.40" width="5.0" height="6.42" fill="#96c1e8"/>
<rect x="215.0" y="91.40" width="5.0" height="6.42" fill="#68a2d8"/>
<rect x="250.0" y="91.40" width="5.0" height="6.42" fill="#bbd7f2"/>
<rect x="260.0" y="91.40" width="5.0" height="6.42" fill="#bbd7f2"/>
<rect x="265.0" y="91.40" width="5.0" height="6.42" fill="#0c5c9c"/>
<rect x="285.0" y="91.40" width="5.0" height="6.42" fill="#96c1e8"/>
<rect x="295.0" y="91.40" width="5.0" height="6.42" fill="#4a8bcb"/>
<rect x="310.0" y="91.40" width="5.0" height="6.42" fill="#bbd7f2"/>
<rect x="315.0" y="91.40" width="5.0" height="6.42" fill="#bbd7f2"/>
<rect x="340.0" y="91.40" width="5.0" height="6.42" fill="#256aa9"/>
<rect x="345.0" y="91.40" width="5.0" height="6.42" fill="#bbd7f2"/>
<rect x="350.0" y="91.40" width="5.0" height="6.42" fill="#256aa9"/>
<rect x="370.0" y="91.40" width="5.0" height="6.42" fill="#4a8bcb"/>
<rect x="400.0" y="91.40" width="5.0" height="6.42" fill="#bbd7f2"/>
<rect x="440.0" y="91.40" width="5.0" height="6.42" fill="#bbd7f2"/>
<rect x="450.0" y="91.40" width="5.0" height="6.42" fill="#bbd7f2"/>
<rect x="485.0" y="91.40" width="5.0" height="6.42" fill="#bbd7f2"/>
<rect x="140.0" y="97.82" width="5.0" height="6.42" fill="#bbd7f2"/>
<rect x="145.0" y="97.82" width="5.0" height="6.42" fill="#bbd7f2"/>
<rect x="160.0" y="97.82" width="5.0" height="6.42" fill="#4a8bcb"/>
<rect x="190.0" y="97.82" width="5.0" height="6.42" fill="#0c5c9c"/>
<rect x="195.0" y="97.82" width="5.0" height="6.42" fill="#68a2d8"/>
<rect x="215.0" y="97.82" width="5.0" height="6.42" fill="#4a8bcb"/>
<rect x="240.0" y="97.82" width="5.0" height="6.42" fill="#68a2d8"/>
<rect x="250.0" y="97.82" width="5.0" height="6.42" fill="#bbd7f2"/>
<rect x="260.0" y="97.82" width="5.0" height="6.42" fill="#bbd7f2"/>
<rect x="265.0" y="97.82" width="5.0" height="6.42" fill="#bbd7f2"/>
<rect x="285.0" y="97.82" width="5.0" height="6.42" fill="#bbd7f2"/>
<rect x="305.0" y="97.82" width="5.0" height="6.42" fill="#bbd7f2"/>
<rect x="325.0" y="97.82" width="5.0" height="6.42" fill="#bbd7f2"/>
<rect x="340.0" y="97.82" width="5.0" height="6.42" fill="#bbd7f2"/>
<rect x="370.0" y="97.82" width="5.0" height="6.42" fill="#bbd7f2"/>
<rect x="450.0" y="97.82" width="5.0" height="6.42" fill="#bbd7f2"/>
<rect x="465.0" y="97.82" width="5.0" height="6.42" fill="#bbd7f2"/>
<rect x="475.0" y="97.82" width="5.0" height="6.42" fill="#4a8bcb"/>
<rect x="485.0" y="97.82" width="5.0" height="6.42" fill="#96c1e8"/>
<rect x="495.0" y="97.82" width="5.0" height="6.42" fill="#bbd7f2"/>
<rect x="155.0" y="104.25" width="5.0" height="6.42" fill="#bbd7f2"/>
<rect x="200.0" y="104.25" width="5.0" height="6.42" fill="#256aa9"/>
<rect x="215.0" y="104.25" width="5.0" height="6.42" fill="#bbd7f2"/>
<rect x="220.0" y="104.25" width="5.0" height="6.42" fill="#bbd7f2"/>
<rect x="285.0" y="104.25" width="5.0" height="6.42" fill="#68a2d8"/>
<rect x="295.0" y="104.25" width="5.0" height="6.42" fill="#bbd7f2"/>
<rect x="340.0" y="104.25" width="5.0" height="6.42" fill="#96c1e8"/>
<rect x="345.0" y="104.25" width="5.0" height="6.42" fill="#96c1e8"/>
<rect x="385.0" y="104.25" width="5.0" height="6.42" fill="#bbd7f2"/>
<rect x="400.0" y="104.25" width="5.0" height="6.42" fill="#bbd7f2"/>
<rect x="415.0" y="104.25" width="5.0" height="6.42" fill="#bbd7f2"/>
<rect x="425.0" y="104.25" width="5.0" height="6.42" fill="#bbd7f2"/>
<rect x="435.0" y="104.25" width="5.0" height="6.42" fill="#bbd7f2"/>
<rect x="450.0" y="104.25" width="5.0" height="6.42" fill="#bbd7f2"/>
<rect x="460.0" y="104.25" width="5.0" height="6.42" fill="#bbd7f2"/>
<rect x="465.0" y="104.25" width="5.0" height="6.42" fill="#bbd7f2"/>
<rect x="470.0" y="104.25" width="5.0" height="6.42" fill="#0c5c9c"/>
<rect x="475.0" y="104.25" width="5.0" height="6.42" fill="#68a2d8"/>
<rect x="480.0" y="104.25" width="5.0" height="6.42" fill="#bbd7f2"/>
<rect x="495.0" y="104.25" width="5.0" height="6.42" fill="#bbd7f2"/>
<rect x="135.0" y="110.67" width="5.0" height="6.42" fill="#0c5c9c"/>
<rect x="225.0" y="110.67" width="5.0" height="6.42" fill="#96c1e8"/>
<rect x="260.0" y="110.67" width="5.0" height="6.42" fill="#96c1e8"/>
<rect x="285.0" y="110.67" width="5.0" height="6.42" fill="#bbd7f2"/>
<rect x="295.0" y="110.67" width="5.0" height="6.42" fill="#4a8bcb"/>
<rect x="305.0" y="110.67" width="5.0" height="6.42" fill="#bbd7f2"/>
<rect x="315.0" y="110.67" width="5.0" height="6.42" fill="#68a2d8"/>
<rect x="335.0" y="110.67" width="5.0" height="6.42" fill="#bbd7f2"/>
<rect x="340.0" y="110.67" width="5.0" height="6.42" fill="#bbd7f2"/>
<rect x="345.0" y="110.67" width="5.0" height="6.42" fill="#96c1e8"/>
<rect x="395.0" y="110.67" width="5.0" height="6.42" fill="#96c1e8"/>
<rect x="445.0" y="110.67" width="5.0" height="6.42" fill="#bbd7f2"/>
<rect x="455.0" y="110.67" width="5.0" height="6.42" fill="#bbd7f2"/>
<rect x="460.0" y="110.67" width="5.0" height="6.42" fill="#bbd7f2"/>
<rect x="465.0" y="110.67" width="5.0" height="6.42" fill="#bbd7f2"/>
<rect x="485.0" y="110.67" width="5.0" height="6.42" fill="#bbd7f2"/>
<rect x="490.0" y="110.67" width="5.0" height="6.42" fill="#bbd7f2"/>
<rect x="495.0" y="110.67" width="5.0" height="6.42" fill="#bbd7f2"/>
<rect x="140.0" y="129.95" width="5.0" height="6.42" fill="#96c1e8"/>
<rect x="195.0" y="129.95" width="5.0" height="6.42" fill="#4a8bcb"/>
<rect x="210.0" y="129.95" width="5.0" height="6.42" fill="#4a8bcb"/>
<rect x="240.0" y="129.95" width="5.0" height="6.42" fill="#96c1e8"/>
<rect x="255.0" y="129.95" width="5.0" height="6.42" fill="#96c1e8"/>
<rect x="260.0" y="129.95" width="5.0" height="6.42" fill="#96c1e8"/>
<rect x="275.0" y="129.95" width="5.0" height="6.42" fill="#96c1e8"/>
<rect x="290.0" y="129.95" width="5.0" height="6.42" fill="#96c1e8"/>
<rect x="295.0" y="129.95" width="5.0" height="6.42" fill="#96c1e8"/>
<rect x="315.0" y="129.95" width="5.0" height="6.42" fill="#4a8bcb"/>
<rect x="330.0" y="129.95" width="5.0" height="6.42" fill="#4a8bcb"/>
<rect x="340.0" y="129.95" width="5.0" height="6.42" fill="#bbd7f2"/>
<rect x="370.0" y="129.95" width="5.0" height="6.42" fill="#0c5c9c"/>
<rect x="395.0" y="129.95" width="5.0" height="6.42" fill="#4a8bcb"/>
<rect x="435.0" y="129.95" width="5.0" height="6.42" fill="#bbd7f2"/>
<rect x="470.0" y="129.95" width="5.0" height="6.42" fill="#bbd7f2"/>
<rect x="480.0" y="129.95" width="5.0" height="6.42" fill="#bbd7f2"/>
<rect x="485.0" y="129.95" width="5.0" height="6.42" fill="#4a8bcb"/>
<rect x="490.0" y="129.95" width="5.0" height="6.42" fill="#bbd7f2"/>
<rect x="495.0" y="129.95" width="5.0" height="6.42" fill="#bbd7f2"/>
<rect x="140.0" y="136.38" width="5.0" height="6.42" fill="#bbd7f2"/>
<rect x="155.0" y="136.38" width="5.0" height="6.42" fill="#96c1e8"/>
<rect x="200.0" y="136.38" width="5.0" height="6.42" fill="#0c5c9c"/>
<rect x="255.0" y="136.38" width="5.0" height="6.42" fill="#96c1e8"/>
<rect x="330.0" y="136.38" width="5.0" height="6.42" fill="#bbd7f2"/>
<rect x="360.0" y="136.38" width="5.0" height="6.42" fill="#bbd7f2"/>
<rect x="370.0" y="136.38" width="5.0" height="6.42" fill="#96c1e8"/>
<rect x="390.0" y="136.38" width="5.0" height="6.42" fill="#bbd7f2"/>
<rect x="395.0" y="136.38" width="5.0" height="6.42" fill="#bbd7f2"/>
<rect x="425.0" y="136.38" width="5.0" height="6.42" fill="#68a2d8"/>
<rect x="430.0" y="136.38" width="5.0" height="6.42" fill="#bbd7f2"/>
<rect x="450.0" y="136.38" width="5.0" height="6.42" fill="#bbd7f2"/>
<rect x="460.0" y="136.38" width="5.0" height="6.42" fill="#68a2d8"/>
<rect x="465.0" y="136.38" width="5.0" height="6.42" fill="#bbd7f2"/>
<rect x="470.0" y="136.38" width="5.0" height="6.42" fill="#bbd7f2"/>
<rect x="480.0" y="136.38" width="5.0" height="6.42" fill="#68a2d8"/>
<rect x="490.0" y="136.38" width="5.0" height="6.42" fill="#bbd7f2"/>
<rect x="495.0" y="136.38" width="5.0" height="6.42" fill="#bbd7f2"/>
<rect x="205.0" y="142.80" width="5.0" height="6.42" fill="#bbd7f2"/>
<rect x="285.0" y="142.80" width="5.0" height="6.42" fill="#256aa9"/>
<rect x="330.0" y="142.80" width="5.0" height="6.42" fill="#68a2d8"/>
<rect x="340.0" y="142.80" width="5.0" height="6.42" fill="#96c1e8"/>
<rect x="345.0" y="142.80" width="5.0" height="6.42" fill="#bbd7f2"/>
<rect x="385.0" y="142.80" width="5.0" height="6.42" fill="#68a2d8"/>
<rect x="390.0" y="142.80" width="5.0" height="6.42" fill="#68a2d8"/>
<rect x="400.0" y="142.80" width="5.0" height="6.42" fill="#96c1e8"/>
<rect x="425.0" y="142.80" width="5.0" height="6.42" fill="#68a2d8"/>
<rect x="430.0" y="142.80" width="5.0" height="6.42" fill="#0c5c9c"/>
<rect x="435.0" y="142.80" width="5.0" height="6.42" fill="#96c1e8"/>
<rect x="440.0" y="142.80" width="5.0" height="6.42" fill="#bbd7f2"/>
<rect x="465.0" y="142.80" width="5.0" height="6.42" fill="#bbd7f2"/>
<rect x="470.0" y="142.80" width="5.0" height="6.42" fill="#bbd7f2"/>
<rect x="475.0" y="142.80" width="5.0" height="6.42" fill="#bbd7f2"/>
<rect x="480.0" y="142.80" width="5.0" height="6.42" fill="#bbd7f2"/>
<rect x="485.0" y="142.80" width="5.0" height="6.42" fill="#bbd7f2"/>
<rect x="495.0" y="142.80" width="5.0" height="6.42" fill="#68a2d8"/>
<rect x="500.0" y="142.80" width="5.0" height="6.42" fill="#bbd7f2"/>
<rect x="145.0" y="149.22" width="5.0" height="6.42" fill="#4a8bcb"/>
<rect x="150.0" y="149.22" width="5.0" height="6.42" fill="#256aa9"/>
<rect x="155.0" y="149.22" width="5.0" height="6.42" fill="#4a8bcb"/>
<rect x="190.0" y="149.22" width="5.0" height="6.42" fill="#4a8bcb"/>
<rect x="200.0" y="149.22" width="5.0" height="6.42" fill="#4a8bcb"/>
<rect x="210.0" y="149.22" width="5.0" height="6.42" fill="#4a8bcb"/>
<rect x="260.0" y="149.22" width="5.0" height="6.42" fill="#4a8bcb"/>
<rect x="285.0" y="149.22" width="5.0" height="6.42" fill="#68a2d8"/>
<rect x="290.0" y="149.22" width="5.0" height="6.42" fill="#0c5c9c"/>
<rect x="295.0" y="149.22" width="5.0" height="6.42" fill="#68a2d8"/>
<rect x="300.0" y="149.22" width="5.0" height="6.42" fill="#68a2d8"/>
<rect x="330.0" y="149.22" width="5.0" height="6.42" fill="#256aa9"/>
<rect x="340.0" y="149.22" width="5.0" height="6.42" fill="#4a8bcb"/>
<rect x="360.0" y="149.22" width="5.0" height="6.42" fill="#4a8bcb"/>
<rect x="385.0" y="149.22" width="5.0" height="6.42" fill="#68a2d8"/>
<rect x="395.0" y="149.22" width="5.0" height="6.42" fill="#256aa9"/>
<rect x="470.0" y="149.22" width="5.0" height="6.42" fill="#68a2d8"/>
<rect x="475.0" y="149.22" width="5.0" height="6.42" fill="#4a8bcb"/>
<rect x="480.0" y="149.22" width="5.0" height="6.42" fill="#68a2d8"/>
<rect x="135.0" y="155.65" width="5.0" height="6.42" fill="#0c5c9c"/>
<rect x="140.0" y="155.65" width="5.0" height="6.42" fill="#bbd7f2"/>
<rect x="150.0" y="155.65" width="5.0" height="6.42" fill="#96c1e8"/>
<rect x="160.0" y="155.65" width="5.0" height="6.42" fill="#bbd7f2"/>
<rect x="170.0" y="155.65" width="5.0" height="6.42" fill="#bbd7f2"/>
<rect x="205.0" y="155.65" width="5.0" height="6.42" fill="#96c1e8"/>
<rect x="215.0" y="155.65" width="5.0" height="6.42" fill="#bbd7f2"/>
<rect x="225.0" y="155.65" width="5.0" height="6.42" fill="#96c1e8"/>
<rect x="285.0" y="155.65" width="5.0" height="6.42" fill="#bbd7f2"/>
<rect x="290.0" y="155.65" width="5.0" height="6.42" fill="#bbd7f2"/>
<rect x="310.0" y="155.65" width="5.0" height="6.42" fill="#bbd7f2"/>
<rect x="315.0" y="155.65" width="5.0" height="6.42" fill="#bbd7f2"/>
<rect x="330.0" y="155.65" width="5.0" height="6.42" fill="#bbd7f2"/>
<rect x="340.0" y="155.65" width="5.0" height="6.42" fill="#deecf9"/>
<rect x="345.0" y="155.65" width="5.0" height="6.42" fill="#96c1e8"/>
<rect x="405.0" y="155.65" width="5.0" height="6.42" fill="#bbd7f2"/>
<rect x="460.0" y="155.65" width="5.0" height="6.42" fill="#bbd7f2"/>
<rect x="140.0" y="168.50" width="5.0" height="6.42" fill="#256aa9"/>
<rect x="210.0" y="168.50" width="5.0" height="6.42" fill="#256aa9"/>
<rect x="215.0" y="168.50" width="5.0" height="6.42" fill="#96c1e8"/>
<rect x="255.0" y="168.50" width="5.0" height="6.42" fill="#68a2d8"/>
<rect x="260.0" y="168.50" width="5.0" height="6.42" fill="#bbd7f2"/>
<rect x="275.0" y="168.50" width="5.0" height="6.42" fill="#bbd7f2"/>
<rect x="285.0" y="168.50" width="5.0" height="6.42" fill="#0c5c9c"/>
<rect x="290.0" y="168.50" width="5.0" height="6.42" fill="#68a2d8"/>
<rect x="295.0" y="168.50" width="5.0" height="6.42" fill="#bbd7f2"/>
<rect x="305.0" y="168.50" width="5.0" height="6.42" fill="#96c1e8"/>
<rect x="350.0" y="168.50" width="5.0" height="6.42" fill="#4a8bcb"/>
<rect x="360.0" y="168.50" width="5.0" height="6.42" fill="#bbd7f2"/>
<rect x="370.0" y="168.50" width="5.0" height="6.42" fill="#bbd7f2"/>
<rect x="430.0" y="168.50" width="5.0" height="6.42" fill="#bbd7f2"/>
<rect x="450.0" y="168.50" width="5.0" height="6.42" fill="#96c1e8"/>
<rect x="470.0" y="168.50" width="5.0" height="6.42" fill="#bbd7f2"/>
<rect x="475.0" y="168.50" width="5.0" height="6.42" fill="#4a8bcb"/>
<rect x="480.0" y="168.50" width="5.0" height="6.42" fill="#bbd7f2"/>
<rect x="490.0" y="168.50" width="5.0" height="6.42" fill="#bbd7f2"/>
<rect x="140.0" y="174.93" width="5.0" height="6.42" fill="#bbd7f2"/>
<rect x="155.0" y="174.93" width="5.0" height="6.42" fill="#0c5c9c"/>
<rect x="215.0" y="174.93" width="5.0" height="6.42" fill="#68a2d8"/>
<rect x="265.0" y="174.93" width="5.0" height="6.42" fill="#bbd7f2"/>
<rect x="275.0" y="174.93" width="5.0" height="6.42" fill="#bbd7f2"/>
<rect x="285.0" y="174.93" width="5.0" height="6.42" fill="#bbd7f2"/>
<rect x="290.0" y="174.93" width="5.0" height="6.42" fill="#bbd7f2"/>
<rect x="340.0" y="174.93" width="5.0" height="6.42" fill="#bbd7f2"/>
<rect x="370.0" y="174.93" width="5.0" height="6.42" fill="#bbd7f2"/>
<rect x="385.0" y="174.93" width="5.0" height="6.42" fill="#96c1e8"/>
<rect x="400.0" y="174.93" width="5.0" height="6.42" fill="#96c1e8"/>
<rect x="430.0" y="174.93" width="5.0" height="6.42" fill="#bbd7f2"/>
<rect x="435.0" y="174.93" width="5.0" height="6.42" fill="#bbd7f2"/>
<rect x="450.0" y="174.93" width="5.0" height="6.42" fill="#bbd7f2"/>
<rect x="455.0" y="174.93" width="5.0" height="6.42" fill="#bbd7f2"/>
<rect x="470.0" y="174.93" width="5.0" height="6.42" fill="#bbd7f2"/>
<rect x="475.0" y="174.93" width="5.0" height="6.42" fill="#96c1e8"/>
<rect x="480.0" y="174.93" width="5.0" height="6.42" fill="#96c1e8"/>
<rect x="495.0" y="174.93" width="5.0" height="6.42" fill="#96c1e8"/>
<rect x="140.0" y="181.35" width="5.0" height="6.42" fill="#bbd7f2"/>
<rect x="150.0" y="181.35" width="5.0" height="6.42" fill="#0c5c9c"/>
<rect x="155.0" y="181.35" width="5.0" height="6.42" fill="#bbd7f2"/>
<rect x="175.0" y="181.35" width="5.0" height="6.42" fill="#bbd7f2"/>
<rect x="200.0" y="181.35" width="5.0" height="6.42" fill="#bbd7f2"/>
<rect x="215.0" y="181.35" width="5.0" height="6.42" fill="#bbd7f2"/>
<rect x="235.0" y="181.35" width="5.0" height="6.42" fill="#bbd7f2"/>
<rect x="260.0" y="181.35" width="5.0" height="6.42" fill="#68a2d8"/>
<rect x="275.0" y="181.35" width="5.0" height="6.42" fill="#4a8bcb"/>
<rect x="285.0" y="181.35" width="5.0" height="6.42" fill="#68a2d8"/>
<rect x="290.0" y="181.35" width="5.0" height="6.42" fill="#68a2d8"/>
<rect x="305.0" y="181.35" width="5.0" height="6.42" fill="#bbd7f2"/>
<rect x="330.0" y="181.35" width="5.0" height="6.42" fill="#68a2d8"/>
<rect x="345.0" y="181.35" width="5.0" height="6.42" fill="#96c1e8"/>
<rect x="370.0" y="181.35" width="5.0" height="6.42" fill="#bbd7f2"/>
<rect x="385.0" y="181.35" width="5.0" height="6.42" fill="#bbd7f2"/>
<rect x="430.0" y="181.35" width="5.0" height="6.42" fill="#96c1e8"/>
<rect x="470.0" y="181.35" width="5.0" height="6.42" fill="#bbd7f2"/>
<rect x="475.0" y="181.35" width="5.0" height="6.42" fill="#bbd7f2"/>
<rect x="140.0" y="187.78" width="5.0" height="6.42" fill="#4a8bcb"/>
<rect x="145.0" y="187.78" width="5.0" height="6.42" fill="#bbd7f2"/>
<rect x="150.0" y="187.78" width="5.0" height="6.42" fill="#256aa9"/>
<rect x="155.0" y="187.78" width="5.0" height="6.42" fill="#bbd7f2"/>
<rect x="225.0" y="187.78" width="5.0" height="6.42" fill="#bbd7f2"/>
<rect x="255.0" y="187.78" width="5.0" height="6.42" fill="#96c1e8"/>
<rect x="260.0" y="187.78" width="5.0" height="6.42" fill="#bbd7f2"/>
<rect x="265.0" y="187.78" width="5.0" height="6.42" fill="#bbd7f2"/>
<rect x="275.0" y="187.78" width="5.0" height="6.42" fill="#bbd7f2"/>
<rect x="285.0" y="187.78" width="5.0" height="6.42" fill="#bbd7f2"/>
<rect x="290.0" y="187.78" width="5.0" height="6.42" fill="#bbd7f2"/>
<rect x="295.0" y="187.78" width="5.0" height="6.42" fill="#256aa9"/>
<rect x="305.0" y="187.78" width="5.0" height="6.42" fill="#bbd7f2"/>
<rect x="330.0" y="187.78" width="5.0" height="6.42" fill="#bbd7f2"/>
<rect x="345.0" y="187.78" width="5.0" height="6.42" fill="#4a8bcb"/>
<rect x="360.0" y="187.78" width="5.0" height="6.42" fill="#0c5c9c"/>
<rect x="395.0" y="187.78" width="5.0" height="6.42" fill="#4a8bcb"/>
<rect x="485.0" y="187.78" width="5.0" height="6.42" fill="#bbd7f2"/>
<line x1="505.2" y1="4" x2="505.2" y2="213.8" stroke="#c4c4c4" stroke-width="0.9"/>
<rect x="135.3" y="204.0" width="4.4" height="9.6" fill="#b3d1ec" stroke="#8fa7bc" stroke-width="0.6"/>
<rect x="140.3" y="204.0" width="4.4" height="9.6" fill="#256aa9" stroke="#1d5487" stroke-width="0.6"/>
<rect x="145.3" y="204.0" width="4.4" height="9.6" fill="#deecf9" stroke="#b1bcc7" stroke-width="0.6"/>
<rect x="150.3" y="204.0" width="4.4" height="9.6" fill="#68a2d8" stroke="#5381ac" stroke-width="0.6"/>
<rect x="155.3" y="204.0" width="4.4" height="9.6" fill="#4a8bcb" stroke="#3b6fa2" stroke-width="0.6"/>
<rect x="160.3" y="204.0" width="4.4" height="9.6" fill="#f6f9fc" stroke="#c4c7c9" stroke-width="0.6"/>
<rect x="165.3" y="204.0" width="4.4" height="9.6" fill="#fbfbfb" stroke="#c8c8c8" stroke-width="0.6"/>
<rect x="170.3" y="204.0" width="4.4" height="9.6" fill="#deecf9" stroke="#b1bcc7" stroke-width="0.6"/>
<rect x="175.3" y="204.0" width="4.4" height="9.6" fill="#f6f9fc" stroke="#c4c7c9" stroke-width="0.6"/>
<rect x="180.3" y="204.0" width="4.4" height="9.6" fill="#f6f9fc" stroke="#c4c7c9" stroke-width="0.6"/>
<rect x="185.3" y="204.0" width="4.4" height="9.6" fill="#f6f9fc" stroke="#c4c7c9" stroke-width="0.6"/>
<rect x="190.3" y="204.0" width="4.4" height="9.6" fill="#bbd7f2" stroke="#95acc1" stroke-width="0.6"/>
<rect x="195.3" y="204.0" width="4.4" height="9.6" fill="#deecf9" stroke="#b1bcc7" stroke-width="0.6"/>
<rect x="200.3" y="204.0" width="4.4" height="9.6" fill="#4a8bcb" stroke="#3b6fa2" stroke-width="0.6"/>
<rect x="205.3" y="204.0" width="4.4" height="9.6" fill="#f6f9fc" stroke="#c4c7c9" stroke-width="0.6"/>
<rect x="210.3" y="204.0" width="4.4" height="9.6" fill="#68a2d8" stroke="#5381ac" stroke-width="0.6"/>
<rect x="215.3" y="204.0" width="4.4" height="9.6" fill="#4a8bcb" stroke="#3b6fa2" stroke-width="0.6"/>
<rect x="220.3" y="204.0" width="4.4" height="9.6" fill="#f6f9fc" stroke="#c4c7c9" stroke-width="0.6"/>
<rect x="225.3" y="204.0" width="4.4" height="9.6" fill="#deecf9" stroke="#b1bcc7" stroke-width="0.6"/>
<rect x="230.3" y="204.0" width="4.4" height="9.6" fill="#f6f9fc" stroke="#c4c7c9" stroke-width="0.6"/>
<rect x="235.3" y="204.0" width="4.4" height="9.6" fill="#deecf9" stroke="#b1bcc7" stroke-width="0.6"/>
<rect x="240.3" y="204.0" width="4.4" height="9.6" fill="#deecf9" stroke="#b1bcc7" stroke-width="0.6"/>
<rect x="245.3" y="204.0" width="4.4" height="9.6" fill="#f6f9fc" stroke="#c4c7c9" stroke-width="0.6"/>
<rect x="250.3" y="204.0" width="4.4" height="9.6" fill="#deecf9" stroke="#b1bcc7" stroke-width="0.6"/>
<rect x="255.3" y="204.0" width="4.4" height="9.6" fill="#bbd7f2" stroke="#95acc1" stroke-width="0.6"/>
<rect x="260.3" y="204.0" width="4.4" height="9.6" fill="#4a8bcb" stroke="#3b6fa2" stroke-width="0.6"/>
<rect x="265.3" y="204.0" width="4.4" height="9.6" fill="#68a2d8" stroke="#5381ac" stroke-width="0.6"/>
<rect x="270.3" y="204.0" width="4.4" height="9.6" fill="#f6f9fc" stroke="#c4c7c9" stroke-width="0.6"/>
<rect x="275.3" y="204.0" width="4.4" height="9.6" fill="#96c1e8" stroke="#789ab9" stroke-width="0.6"/>
<rect x="280.3" y="204.0" width="4.4" height="9.6" fill="#f6f9fc" stroke="#c4c7c9" stroke-width="0.6"/>
<rect x="285.3" y="204.0" width="4.4" height="9.6" fill="#256aa9" stroke="#1d5487" stroke-width="0.6"/>
<rect x="290.3" y="204.0" width="4.4" height="9.6" fill="#4a8bcb" stroke="#3b6fa2" stroke-width="0.6"/>
<rect x="295.3" y="204.0" width="4.4" height="9.6" fill="#4a8bcb" stroke="#3b6fa2" stroke-width="0.6"/>
<rect x="300.3" y="204.0" width="4.4" height="9.6" fill="#deecf9" stroke="#b1bcc7" stroke-width="0.6"/>
<rect x="305.3" y="204.0" width="4.4" height="9.6" fill="#68a2d8" stroke="#5381ac" stroke-width="0.6"/>
<rect x="310.3" y="204.0" width="4.4" height="9.6" fill="#96c1e8" stroke="#789ab9" stroke-width="0.6"/>
<rect x="315.3" y="204.0" width="4.4" height="9.6" fill="#deecf9" stroke="#b1bcc7" stroke-width="0.6"/>
<rect x="320.3" y="204.0" width="4.4" height="9.6" fill="#f6f9fc" stroke="#c4c7c9" stroke-width="0.6"/>
<rect x="325.3" y="204.0" width="4.4" height="9.6" fill="#f6f9fc" stroke="#c4c7c9" stroke-width="0.6"/>
<rect x="330.3" y="204.0" width="4.4" height="9.6" fill="#4a8bcb" stroke="#3b6fa2" stroke-width="0.6"/>
<rect x="335.3" y="204.0" width="4.4" height="9.6" fill="#bbd7f2" stroke="#95acc1" stroke-width="0.6"/>
<rect x="340.3" y="204.0" width="4.4" height="9.6" fill="#4a8bcb" stroke="#3b6fa2" stroke-width="0.6"/>
<rect x="345.3" y="204.0" width="4.4" height="9.6" fill="#256aa9" stroke="#1d5487" stroke-width="0.6"/>
<rect x="350.3" y="204.0" width="4.4" height="9.6" fill="#96c1e8" stroke="#789ab9" stroke-width="0.6"/>
<rect x="355.3" y="204.0" width="4.4" height="9.6" fill="#f6f9fc" stroke="#c4c7c9" stroke-width="0.6"/>
<rect x="360.3" y="204.0" width="4.4" height="9.6" fill="#4a8bcb" stroke="#3b6fa2" stroke-width="0.6"/>
<rect x="365.3" y="204.0" width="4.4" height="9.6" fill="#f6f9fc" stroke="#c4c7c9" stroke-width="0.6"/>
<rect x="370.3" y="204.0" width="4.4" height="9.6" fill="#4a8bcb" stroke="#3b6fa2" stroke-width="0.6"/>
<rect x="375.3" y="204.0" width="4.4" height="9.6" fill="#deecf9" stroke="#b1bcc7" stroke-width="0.6"/>
<rect x="380.3" y="204.0" width="4.4" height="9.6" fill="#f6f9fc" stroke="#c4c7c9" stroke-width="0.6"/>
<rect x="385.3" y="204.0" width="4.4" height="9.6" fill="#4a8bcb" stroke="#3b6fa2" stroke-width="0.6"/>
<rect x="390.3" y="204.0" width="4.4" height="9.6" fill="#bbd7f2" stroke="#95acc1" stroke-width="0.6"/>
<rect x="395.3" y="204.0" width="4.4" height="9.6" fill="#96c1e8" stroke="#789ab9" stroke-width="0.6"/>
<rect x="400.3" y="204.0" width="4.4" height="9.6" fill="#bbd7f2" stroke="#95acc1" stroke-width="0.6"/>
<rect x="405.3" y="204.0" width="4.4" height="9.6" fill="#f6f9fc" stroke="#c4c7c9" stroke-width="0.6"/>
<rect x="410.3" y="204.0" width="4.4" height="9.6" fill="#deecf9" stroke="#b1bcc7" stroke-width="0.6"/>
<rect x="415.3" y="204.0" width="4.4" height="9.6" fill="#deecf9" stroke="#b1bcc7" stroke-width="0.6"/>
<rect x="420.3" y="204.0" width="4.4" height="9.6" fill="#f6f9fc" stroke="#c4c7c9" stroke-width="0.6"/>
<rect x="425.3" y="204.0" width="4.4" height="9.6" fill="#bbd7f2" stroke="#95acc1" stroke-width="0.6"/>
<rect x="430.3" y="204.0" width="4.4" height="9.6" fill="#4a8bcb" stroke="#3b6fa2" stroke-width="0.6"/>
<rect x="435.3" y="204.0" width="4.4" height="9.6" fill="#f6f9fc" stroke="#c4c7c9" stroke-width="0.6"/>
<rect x="440.3" y="204.0" width="4.4" height="9.6" fill="#96c1e8" stroke="#789ab9" stroke-width="0.6"/>
<rect x="445.3" y="204.0" width="4.4" height="9.6" fill="#deecf9" stroke="#b1bcc7" stroke-width="0.6"/>
<rect x="450.3" y="204.0" width="4.4" height="9.6" fill="#96c1e8" stroke="#789ab9" stroke-width="0.6"/>
<rect x="455.3" y="204.0" width="4.4" height="9.6" fill="#deecf9" stroke="#b1bcc7" stroke-width="0.6"/>
<rect x="460.3" y="204.0" width="4.4" height="9.6" fill="#bbd7f2" stroke="#95acc1" stroke-width="0.6"/>
<rect x="465.3" y="204.0" width="4.4" height="9.6" fill="#bbd7f2" stroke="#95acc1" stroke-width="0.6"/>
<rect x="470.3" y="204.0" width="4.4" height="9.6" fill="#4a8bcb" stroke="#3b6fa2" stroke-width="0.6"/>
<rect x="475.3" y="204.0" width="4.4" height="9.6" fill="#256aa9" stroke="#1d5487" stroke-width="0.6"/>
<rect x="480.3" y="204.0" width="4.4" height="9.6" fill="#4a8bcb" stroke="#3b6fa2" stroke-width="0.6"/>
<rect x="485.3" y="204.0" width="4.4" height="9.6" fill="#4a8bcb" stroke="#3b6fa2" stroke-width="0.6"/>
<rect x="490.3" y="204.0" width="4.4" height="9.6" fill="#bbd7f2" stroke="#95acc1" stroke-width="0.6"/>
<rect x="495.3" y="204.0" width="4.4" height="9.6" fill="#68a2d8" stroke="#5381ac" stroke-width="0.6"/>
<rect x="500.3" y="204.0" width="4.4" height="9.6" fill="#f6f9fc" stroke="#c4c7c9" stroke-width="0.6"/>
<line x1="135.0" y1="213.9" x2="135.0" y2="296.8" stroke="#ebebeb" stroke-width="0.5"/>
<line x1="140.0" y1="213.9" x2="140.0" y2="296.8" stroke="#ebebeb" stroke-width="0.5"/>
<line x1="145.0" y1="213.9" x2="145.0" y2="296.8" stroke="#ebebeb" stroke-width="0.5"/>
<line x1="150.0" y1="213.9" x2="150.0" y2="296.8" stroke="#ebebeb" stroke-width="0.5"/>
<line x1="155.0" y1="213.9" x2="155.0" y2="296.8" stroke="#ebebeb" stroke-width="0.5"/>
<line x1="160.0" y1="213.9" x2="160.0" y2="296.8" stroke="#ebebeb" stroke-width="0.5"/>
<line x1="165.0" y1="213.9" x2="165.0" y2="296.8" stroke="#ebebeb" stroke-width="0.5"/>
<line x1="170.0" y1="213.9" x2="170.0" y2="296.8" stroke="#ebebeb" stroke-width="0.5"/>
<line x1="175.0" y1="213.9" x2="175.0" y2="296.8" stroke="#ebebeb" stroke-width="0.5"/>
<line x1="180.0" y1="213.9" x2="180.0" y2="296.8" stroke="#ebebeb" stroke-width="0.5"/>
<line x1="185.0" y1="213.9" x2="185.0" y2="296.8" stroke="#ebebeb" stroke-width="0.5"/>
<line x1="190.0" y1="213.9" x2="190.0" y2="296.8" stroke="#ebebeb" stroke-width="0.5"/>
<line x1="195.0" y1="213.9" x2="195.0" y2="296.8" stroke="#ebebeb" stroke-width="0.5"/>
<line x1="200.0" y1="213.9" x2="200.0" y2="296.8" stroke="#ebebeb" stroke-width="0.5"/>
<line x1="205.0" y1="213.9" x2="205.0" y2="296.8" stroke="#ebebeb" stroke-width="0.5"/>
<line x1="210.0" y1="213.9" x2="210.0" y2="296.8" stroke="#ebebeb" stroke-width="0.5"/>
<line x1="215.0" y1="213.9" x2="215.0" y2="296.8" stroke="#ebebeb" stroke-width="0.5"/>
<line x1="220.0" y1="213.9" x2="220.0" y2="296.8" stroke="#ebebeb" stroke-width="0.5"/>
<line x1="225.0" y1="213.9" x2="225.0" y2="296.8" stroke="#ebebeb" stroke-width="0.5"/>
<line x1="230.0" y1="213.9" x2="230.0" y2="296.8" stroke="#ebebeb" stroke-width="0.5"/>
<line x1="235.0" y1="213.9" x2="235.0" y2="296.8" stroke="#ebebeb" stroke-width="0.5"/>
<line x1="240.0" y1="213.9" x2="240.0" y2="296.8" stroke="#ebebeb" stroke-width="0.5"/>
<line x1="245.0" y1="213.9" x2="245.0" y2="296.8" stroke="#ebebeb" stroke-width="0.5"/>
<line x1="250.0" y1="213.9" x2="250.0" y2="296.8" stroke="#ebebeb" stroke-width="0.5"/>
<line x1="255.0" y1="213.9" x2="255.0" y2="296.8" stroke="#ebebeb" stroke-width="0.5"/>
<line x1="260.0" y1="213.9" x2="260.0" y2="296.8" stroke="#ebebeb" stroke-width="0.5"/>
<line x1="265.0" y1="213.9" x2="265.0" y2="296.8" stroke="#ebebeb" stroke-width="0.5"/>
<line x1="270.0" y1="213.9" x2="270.0" y2="296.8" stroke="#ebebeb" stroke-width="0.5"/>
<line x1="275.0" y1="213.9" x2="275.0" y2="296.8" stroke="#ebebeb" stroke-width="0.5"/>
<line x1="280.0" y1="213.9" x2="280.0" y2="296.8" stroke="#ebebeb" stroke-width="0.5"/>
<line x1="285.0" y1="213.9" x2="285.0" y2="296.8" stroke="#ebebeb" stroke-width="0.5"/>
<line x1="290.0" y1="213.9" x2="290.0" y2="296.8" stroke="#ebebeb" stroke-width="0.5"/>
<line x1="295.0" y1="213.9" x2="295.0" y2="296.8" stroke="#ebebeb" stroke-width="0.5"/>
<line x1="300.0" y1="213.9" x2="300.0" y2="296.8" stroke="#ebebeb" stroke-width="0.5"/>
<line x1="305.0" y1="213.9" x2="305.0" y2="296.8" stroke="#ebebeb" stroke-width="0.5"/>
<line x1="310.0" y1="213.9" x2="310.0" y2="296.8" stroke="#ebebeb" stroke-width="0.5"/>
<line x1="315.0" y1="213.9" x2="315.0" y2="296.8" stroke="#ebebeb" stroke-width="0.5"/>
<line x1="320.0" y1="213.9" x2="320.0" y2="296.8" stroke="#ebebeb" stroke-width="0.5"/>
<line x1="325.0" y1="213.9" x2="325.0" y2="296.8" stroke="#ebebeb" stroke-width="0.5"/>
<line x1="330.0" y1="213.9" x2="330.0" y2="296.8" stroke="#ebebeb" stroke-width="0.5"/>
<line x1="335.0" y1="213.9" x2="335.0" y2="296.8" stroke="#ebebeb" stroke-width="0.5"/>
<line x1="340.0" y1="213.9" x2="340.0" y2="296.8" stroke="#ebebeb" stroke-width="0.5"/>
<line x1="345.0" y1="213.9" x2="345.0" y2="296.8" stroke="#ebebeb" stroke-width="0.5"/>
<line x1="350.0" y1="213.9" x2="350.0" y2="296.8" stroke="#ebebeb" stroke-width="0.5"/>
<line x1="355.0" y1="213.9" x2="355.0" y2="296.8" stroke="#ebebeb" stroke-width="0.5"/>
<line x1="360.0" y1="213.9" x2="360.0" y2="296.8" stroke="#ebebeb" stroke-width="0.5"/>
<line x1="365.0" y1="213.9" x2="365.0" y2="296.8" stroke="#ebebeb" stroke-width="0.5"/>
<line x1="370.0" y1="213.9" x2="370.0" y2="296.8" stroke="#ebebeb" stroke-width="0.5"/>
<line x1="375.0" y1="213.9" x2="375.0" y2="296.8" stroke="#ebebeb" stroke-width="0.5"/>
<line x1="380.0" y1="213.9" x2="380.0" y2="296.8" stroke="#ebebeb" stroke-width="0.5"/>
<line x1="385.0" y1="213.9" x2="385.0" y2="296.8" stroke="#ebebeb" stroke-width="0.5"/>
<line x1="390.0" y1="213.9" x2="390.0" y2="296.8" stroke="#ebebeb" stroke-width="0.5"/>
<line x1="395.0" y1="213.9" x2="395.0" y2="296.8" stroke="#ebebeb" stroke-width="0.5"/>
<line x1="400.0" y1="213.9" x2="400.0" y2="296.8" stroke="#ebebeb" stroke-width="0.5"/>
<line x1="405.0" y1="213.9" x2="405.0" y2="296.8" stroke="#ebebeb" stroke-width="0.5"/>
<line x1="410.0" y1="213.9" x2="410.0" y2="296.8" stroke="#ebebeb" stroke-width="0.5"/>
<line x1="415.0" y1="213.9" x2="415.0" y2="296.8" stroke="#ebebeb" stroke-width="0.5"/>
<line x1="420.0" y1="213.9" x2="420.0" y2="296.8" stroke="#ebebeb" stroke-width="0.5"/>
<line x1="425.0" y1="213.9" x2="425.0" y2="296.8" stroke="#ebebeb" stroke-width="0.5"/>
<line x1="430.0" y1="213.9" x2="430.0" y2="296.8" stroke="#ebebeb" stroke-width="0.5"/>
<line x1="435.0" y1="213.9" x2="435.0" y2="296.8" stroke="#ebebeb" stroke-width="0.5"/>
<line x1="440.0" y1="213.9" x2="440.0" y2="296.8" stroke="#ebebeb" stroke-width="0.5"/>
<line x1="445.0" y1="213.9" x2="445.0" y2="296.8" stroke="#ebebeb" stroke-width="0.5"/>
<line x1="450.0" y1="213.9" x2="450.0" y2="296.8" stroke="#ebebeb" stroke-width="0.5"/>
<line x1="455.0" y1="213.9" x2="455.0" y2="296.8" stroke="#ebebeb" stroke-width="0.5"/>
<line x1="460.0" y1="213.9" x2="460.0" y2="296.8" stroke="#ebebeb" stroke-width="0.5"/>
<line x1="465.0" y1="213.9" x2="465.0" y2="296.8" stroke="#ebebeb" stroke-width="0.5"/>
<line x1="470.0" y1="213.9" x2="470.0" y2="296.8" stroke="#ebebeb" stroke-width="0.5"/>
<line x1="475.0" y1="213.9" x2="475.0" y2="296.8" stroke="#ebebeb" stroke-width="0.5"/>
<line x1="480.0" y1="213.9" x2="480.0" y2="296.8" stroke="#ebebeb" stroke-width="0.5"/>
<line x1="485.0" y1="213.9" x2="485.0" y2="296.8" stroke="#ebebeb" stroke-width="0.5"/>
<line x1="490.0" y1="213.9" x2="490.0" y2="296.8" stroke="#ebebeb" stroke-width="0.5"/>
<line x1="495.0" y1="213.9" x2="495.0" y2="296.8" stroke="#ebebeb" stroke-width="0.5"/>
<line x1="500.0" y1="213.9" x2="500.0" y2="296.8" stroke="#ebebeb" stroke-width="0.5"/>
<line x1="505.0" y1="213.9" x2="505.0" y2="296.8" stroke="#ebebeb" stroke-width="0.5"/>
<text transform="translate(139.90,296.5) rotate(-90)" font-size="4.7" fill="#222" stroke="#222" stroke-width="0.03" textLength="6.9" lengthAdjust="spacingAndGlyphs">Age</text>
<text transform="translate(144.90,296.5) rotate(-90)" font-size="4.7" fill="#222" stroke="#222" stroke-width="0.03" textLength="7.5" lengthAdjust="spacingAndGlyphs">BMI</text>
<text transform="translate(149.90,296.5) rotate(-90)" font-size="4.7" fill="#222" stroke="#222" stroke-width="0.03" textLength="29.5" lengthAdjust="spacingAndGlyphs">Physical activity</text>
<text transform="translate(154.90,296.5) rotate(-90)" font-size="4.7" fill="#222" stroke="#222" stroke-width="0.03" textLength="16.0" lengthAdjust="spacingAndGlyphs">Smoking</text>
<text transform="translate(159.90,296.5) rotate(-90)" font-size="4.7" fill="#222" stroke="#222" stroke-width="0.03" textLength="25.7" lengthAdjust="spacingAndGlyphs">Alcohol intake</text>
<text transform="translate(164.90,296.5) rotate(-90)" font-size="4.7" fill="#222" stroke="#222" stroke-width="0.03" textLength="38.9" lengthAdjust="spacingAndGlyphs">Sedentary behaviour</text>
<text transform="translate(169.90,296.5) rotate(-90)" font-size="4.7" fill="#222" stroke="#222" stroke-width="0.03" textLength="61.4" lengthAdjust="spacingAndGlyphs">Basophilic granulocytes 10E9/L</text>
<text transform="translate(174.90,296.5) rotate(-90)" font-size="4.7" fill="#222" stroke="#222" stroke-width="0.03" textLength="51.0" lengthAdjust="spacingAndGlyphs">Basophilic granulocytes %</text>
<text transform="translate(179.90,296.5) rotate(-90)" font-size="4.7" fill="#222" stroke="#222" stroke-width="0.03" textLength="34.7" lengthAdjust="spacingAndGlyphs">Creatinine umol/L</text>
<text transform="translate(184.90,296.5) rotate(-90)" font-size="4.7" fill="#222" stroke="#222" stroke-width="0.03" textLength="38.3" lengthAdjust="spacingAndGlyphs">Cholesterol mmol/L</text>
<text transform="translate(189.90,296.5) rotate(-90)" font-size="4.7" fill="#222" stroke="#222" stroke-width="0.03" textLength="26.4" lengthAdjust="spacingAndGlyphs">hsCRP 1 mg/L</text>
<text transform="translate(194.90,296.5) rotate(-90)" font-size="4.7" fill="#222" stroke="#222" stroke-width="0.03" textLength="61.4" lengthAdjust="spacingAndGlyphs">Eosinophilic granulocytes 10E9/L</text>
<text transform="translate(199.90,296.5) rotate(-90)" font-size="4.7" fill="#222" stroke="#222" stroke-width="0.03" textLength="51.0" lengthAdjust="spacingAndGlyphs">Eosinophilic granulocytes %</text>
<text transform="translate(204.90,296.5) rotate(-90)" font-size="4.7" fill="#222" stroke="#222" stroke-width="0.03" textLength="42.0" lengthAdjust="spacingAndGlyphs">Erythrocytes 10E12/L</text>
<text transform="translate(209.90,296.5) rotate(-90)" font-size="4.7" fill="#222" stroke="#222" stroke-width="0.03" textLength="31.3" lengthAdjust="spacingAndGlyphs">Glucose mmol/L</text>
<text transform="translate(214.90,296.5) rotate(-90)" font-size="4.7" fill="#222" stroke="#222" stroke-width="0.03" textLength="71.9" lengthAdjust="spacingAndGlyphs">GR Neutrophilic granulocytes 10E9/L</text>
<text transform="translate(219.90,296.5) rotate(-90)" font-size="4.7" fill="#222" stroke="#222" stroke-width="0.03" textLength="64.2" lengthAdjust="spacingAndGlyphs">GRP Neutrophilic granulocytes %</text>
<text transform="translate(224.90,296.5) rotate(-90)" font-size="4.7" fill="#222" stroke="#222" stroke-width="0.03" textLength="38.9" lengthAdjust="spacingAndGlyphs">Haemoglobin mmol/L</text>
<text transform="translate(229.90,296.5) rotate(-90)" font-size="4.7" fill="#222" stroke="#222" stroke-width="0.03" textLength="34.7" lengthAdjust="spacingAndGlyphs">HbA1c mmol/mol</text>
<text transform="translate(234.90,296.5) rotate(-90)" font-size="4.7" fill="#222" stroke="#222" stroke-width="0.03" textLength="17.3" lengthAdjust="spacingAndGlyphs">HbA1c %</text>
<text transform="translate(239.90,296.5) rotate(-90)" font-size="4.7" fill="#222" stroke="#222" stroke-width="0.03" textLength="47.8" lengthAdjust="spacingAndGlyphs">Cholesterol HDL mmol/L</text>
<text transform="translate(244.90,296.5) rotate(-90)" font-size="4.7" fill="#222" stroke="#222" stroke-width="0.03" textLength="29.9" lengthAdjust="spacingAndGlyphs">Haematocrit v/v</text>
<text transform="translate(249.90,296.5) rotate(-90)" font-size="4.7" fill="#222" stroke="#222" stroke-width="0.03" textLength="36.1" lengthAdjust="spacingAndGlyphs">Potassium mmol/L</text>
<text transform="translate(254.90,296.5) rotate(-90)" font-size="4.7" fill="#222" stroke="#222" stroke-width="0.03" textLength="46.8" lengthAdjust="spacingAndGlyphs">Cholesterol LDL mmol/L</text>
<text transform="translate(259.90,296.5) rotate(-90)" font-size="4.7" fill="#222" stroke="#222" stroke-width="0.03" textLength="36.8" lengthAdjust="spacingAndGlyphs">Leukocytes 10E9/L</text>
<text transform="translate(264.90,296.5) rotate(-90)" font-size="4.7" fill="#222" stroke="#222" stroke-width="0.03" textLength="39.6" lengthAdjust="spacingAndGlyphs">Lymphocytes 10E9/L</text>
<text transform="translate(269.90,296.5) rotate(-90)" font-size="4.7" fill="#222" stroke="#222" stroke-width="0.03" textLength="29.9" lengthAdjust="spacingAndGlyphs">Lymphocytes %</text>
<text transform="translate(274.90,296.5) rotate(-90)" font-size="4.7" fill="#222" stroke="#222" stroke-width="0.03" textLength="36.1" lengthAdjust="spacingAndGlyphs">Monocytes 10E9/L</text>
<text transform="translate(279.90,296.5) rotate(-90)" font-size="4.7" fill="#222" stroke="#222" stroke-width="0.03" textLength="41.3" lengthAdjust="spacingAndGlyphs">Mononuclear cells %</text>
<text transform="translate(284.90,296.5) rotate(-90)" font-size="4.7" fill="#222" stroke="#222" stroke-width="0.03" textLength="30.6" lengthAdjust="spacingAndGlyphs">Sodium mmol/L</text>
<text transform="translate(289.90,296.5) rotate(-90)" font-size="4.7" fill="#222" stroke="#222" stroke-width="0.03" textLength="39.6" lengthAdjust="spacingAndGlyphs">Triglycerides mmol/L</text>
<text transform="translate(294.90,296.5) rotate(-90)" font-size="4.7" fill="#222" stroke="#222" stroke-width="0.03" textLength="42.3" lengthAdjust="spacingAndGlyphs">Thrombocytes 10E9/L</text>
<text transform="translate(299.90,296.5) rotate(-90)" font-size="4.7" fill="#222" stroke="#222" stroke-width="0.03" textLength="13.2" lengthAdjust="spacingAndGlyphs">SCORE</text>
<text transform="translate(304.90,296.5) rotate(-90)" font-size="4.7" fill="#222" stroke="#222" stroke-width="0.03" textLength="20.8" lengthAdjust="spacingAndGlyphs">Eggs g/day</text>
<text transform="translate(309.90,296.5) rotate(-90)" font-size="4.7" fill="#222" stroke="#222" stroke-width="0.03" textLength="61.4" lengthAdjust="spacingAndGlyphs">Red and processed meat g/day</text>
<text transform="translate(314.90,296.5) rotate(-90)" font-size="4.7" fill="#222" stroke="#222" stroke-width="0.03" textLength="68.4" lengthAdjust="spacingAndGlyphs">Butter and hard margarines g/day</text>
<text transform="translate(319.90,296.5) rotate(-90)" font-size="4.7" fill="#222" stroke="#222" stroke-width="0.03" textLength="76.7" lengthAdjust="spacingAndGlyphs">Sugar and sweetened beverages g/day</text>
<text transform="translate(324.90,296.5) rotate(-90)" font-size="4.7" fill="#222" stroke="#222" stroke-width="0.03" textLength="53.1" lengthAdjust="spacingAndGlyphs">Alcoholic beverages g/day</text>
<text transform="translate(329.90,296.5) rotate(-90)" font-size="4.7" fill="#222" stroke="#222" stroke-width="0.03" textLength="28.5" lengthAdjust="spacingAndGlyphs">Potatoes g/day</text>
<text transform="translate(334.90,296.5) rotate(-90)" font-size="4.7" fill="#222" stroke="#222" stroke-width="0.03" textLength="57.5" lengthAdjust="spacingAndGlyphs">Refined grain products g/day</text>
<text transform="translate(339.90,296.5) rotate(-90)" font-size="4.7" fill="#222" stroke="#222" stroke-width="0.03" textLength="62.1" lengthAdjust="spacingAndGlyphs">White unprocessed meat g/day</text>
<text transform="translate(344.90,296.5) rotate(-90)" font-size="4.7" fill="#222" stroke="#222" stroke-width="0.03" textLength="25.0" lengthAdjust="spacingAndGlyphs">Cheese g/day</text>
<text transform="translate(349.90,296.5) rotate(-90)" font-size="4.7" fill="#222" stroke="#222" stroke-width="0.03" textLength="68.4" lengthAdjust="spacingAndGlyphs">Savoury and ready products g/day</text>
<text transform="translate(354.90,296.5) rotate(-90)" font-size="4.7" fill="#222" stroke="#222" stroke-width="0.03" textLength="44.7" lengthAdjust="spacingAndGlyphs">Sugary products g/day</text>
<text transform="translate(359.90,296.5) rotate(-90)" font-size="4.7" fill="#222" stroke="#222" stroke-width="0.03" textLength="22.9" lengthAdjust="spacingAndGlyphs">Soups g/day</text>
<text transform="translate(364.90,296.5) rotate(-90)" font-size="4.7" fill="#222" stroke="#222" stroke-width="0.03" textLength="46.1" lengthAdjust="spacingAndGlyphs">Sweetened dairy g/day</text>
<text transform="translate(369.90,296.5) rotate(-90)" font-size="4.7" fill="#222" stroke="#222" stroke-width="0.03" textLength="74.0" lengthAdjust="spacingAndGlyphs">Artificially sweetened products g/day</text>
<text transform="translate(374.90,296.5) rotate(-90)" font-size="4.7" fill="#222" stroke="#222" stroke-width="0.03" textLength="29.9" lengthAdjust="spacingAndGlyphs">Vegetables g/day</text>
<text transform="translate(379.90,296.5) rotate(-90)" font-size="4.7" fill="#222" stroke="#222" stroke-width="0.03" textLength="23.6" lengthAdjust="spacingAndGlyphs">Fruits g/day</text>
<text transform="translate(384.90,296.5) rotate(-90)" font-size="4.7" fill="#222" stroke="#222" stroke-width="0.03" textLength="55.2" lengthAdjust="spacingAndGlyphs">Whole grain products g/day</text>
<text transform="translate(389.90,296.5) rotate(-90)" font-size="4.7" fill="#222" stroke="#222" stroke-width="0.03" textLength="48.9" lengthAdjust="spacingAndGlyphs">Legumes and nuts g/day</text>
<text transform="translate(394.90,296.5) rotate(-90)" font-size="4.7" fill="#222" stroke="#222" stroke-width="0.03" textLength="19.4" lengthAdjust="spacingAndGlyphs">Fish g/day</text>
<text transform="translate(399.90,296.5) rotate(-90)" font-size="4.7" fill="#222" stroke="#222" stroke-width="0.03" textLength="60.7" lengthAdjust="spacingAndGlyphs">Oils and soft margarines g/day</text>
<text transform="translate(404.90,296.5) rotate(-90)" font-size="4.7" fill="#222" stroke="#222" stroke-width="0.03" textLength="51.0" lengthAdjust="spacingAndGlyphs">Unsweetened dairy g/day</text>
<text transform="translate(409.90,296.5) rotate(-90)" font-size="4.7" fill="#222" stroke="#222" stroke-width="0.03" textLength="25.0" lengthAdjust="spacingAndGlyphs">Coffee g/day</text>
<text transform="translate(414.90,296.5) rotate(-90)" font-size="4.7" fill="#222" stroke="#222" stroke-width="0.03" textLength="18.0" lengthAdjust="spacingAndGlyphs">Tea g/day</text>
<text transform="translate(419.90,296.5) rotate(-90)" font-size="4.7" fill="#222" stroke="#222" stroke-width="0.03" textLength="32.0" lengthAdjust="spacingAndGlyphs">Total kilocalories</text>
<text transform="translate(424.90,296.5) rotate(-90)" font-size="4.7" fill="#222" stroke="#222" stroke-width="0.03" textLength="27.8" lengthAdjust="spacingAndGlyphs">Total kilojoules</text>
<text transform="translate(429.90,296.5) rotate(-90)" font-size="4.7" fill="#222" stroke="#222" stroke-width="0.03" textLength="21.5" lengthAdjust="spacingAndGlyphs">Total water</text>
<text transform="translate(434.90,296.5) rotate(-90)" font-size="4.7" fill="#222" stroke="#222" stroke-width="0.03" textLength="23.6" lengthAdjust="spacingAndGlyphs">Total protein</text>
<text transform="translate(439.90,296.5) rotate(-90)" font-size="4.7" fill="#222" stroke="#222" stroke-width="0.03" textLength="27.1" lengthAdjust="spacingAndGlyphs">Total veg prot</text>
<text transform="translate(444.90,296.5) rotate(-90)" font-size="4.7" fill="#222" stroke="#222" stroke-width="0.03" textLength="21.5" lengthAdjust="spacingAndGlyphs">Total starch</text>
<text transform="translate(449.90,296.5) rotate(-90)" font-size="4.7" fill="#222" stroke="#222" stroke-width="0.03" textLength="20.1" lengthAdjust="spacingAndGlyphs">Total sat fat</text>
<text transform="translate(454.90,296.5) rotate(-90)" font-size="4.7" fill="#222" stroke="#222" stroke-width="0.03" textLength="22.3" lengthAdjust="spacingAndGlyphs">Total mono</text>
<text transform="translate(459.90,296.5) rotate(-90)" font-size="4.7" fill="#222" stroke="#222" stroke-width="0.03" textLength="19.4" lengthAdjust="spacingAndGlyphs">Total poly</text>
<text transform="translate(464.90,296.5) rotate(-90)" font-size="4.7" fill="#222" stroke="#222" stroke-width="0.03" textLength="28.5" lengthAdjust="spacingAndGlyphs">Total carbs</text>
<text transform="translate(469.90,296.5) rotate(-90)" font-size="4.7" fill="#222" stroke="#222" stroke-width="0.03" textLength="34.0" lengthAdjust="spacingAndGlyphs">Total added sugar</text>
<text transform="translate(474.90,296.5) rotate(-90)" font-size="4.7" fill="#222" stroke="#222" stroke-width="0.03" textLength="25.7" lengthAdjust="spacingAndGlyphs">Total glucose</text>
<text transform="translate(479.90,296.5) rotate(-90)" font-size="4.7" fill="#222" stroke="#222" stroke-width="0.03" textLength="25.0" lengthAdjust="spacingAndGlyphs">Total fructose</text>
<text transform="translate(484.90,296.5) rotate(-90)" font-size="4.7" fill="#222" stroke="#222" stroke-width="0.03" textLength="23.6" lengthAdjust="spacingAndGlyphs">Total lactose</text>
<text transform="translate(489.90,296.5) rotate(-90)" font-size="4.7" fill="#222" stroke="#222" stroke-width="0.03" textLength="25.7" lengthAdjust="spacingAndGlyphs">Total maltose</text>
<text transform="translate(494.90,296.5) rotate(-90)" font-size="4.7" fill="#222" stroke="#222" stroke-width="0.03" textLength="24.3" lengthAdjust="spacingAndGlyphs">Total sucrose</text>
<text transform="translate(499.90,296.5) rotate(-90)" font-size="4.7" fill="#222" stroke="#222" stroke-width="0.03" textLength="24.3" lengthAdjust="spacingAndGlyphs">Total fibre ind</text>
<text transform="translate(504.90,296.5) rotate(-90)" font-size="4.7" fill="#222" stroke="#222" stroke-width="0.03" textLength="27.1" lengthAdjust="spacingAndGlyphs">Total fibre food</text>
<line x1="5.2" y1="4" x2="5.2" y2="297" stroke="#707070" stroke-width="1.2"/>
<line x1="4.5" y1="4.5" x2="543.5" y2="4.5" stroke="#a0a0a0" stroke-width="1"/>
<line x1="543.3" y1="4" x2="543.3" y2="297" stroke="#a0a0a0" stroke-width="1.1"/>
<line x1="4.5" y1="297.3" x2="543.8" y2="297.3" stroke="#8a8a8a" stroke-width="1"/>
<path d="M543 82.4 H510.4 V159.4 H543" fill="#fff" stroke="#c8c8c8" stroke-width="0.8"/>
<text x="512.8" y="90.3" font-size="4.6" font-weight="bold" fill="#222">MDG</text>
<text x="514.8" y="96.8" font-size="4.6" fill="#222">100</text>
<text x="517.1" y="157.9" font-size="4.9" fill="#222">0</text>
<rect x="529.4" y="92" width="9.9" height="5.9" fill="#135f9f"/>
<rect x="529.4" y="97.90" width="9.9" height="2.88" fill="rgb(72, 134, 196)"/>
<rect x="529.4" y="100.76" width="9.9" height="2.88" fill="rgb(79, 140, 200)"/>
<rect x="529.4" y="103.63" width="9.9" height="2.88" fill="rgb(87, 145, 204)"/>
<rect x="529.4" y="106.49" width="9.9" height="2.88" fill="rgb(94, 151, 208)"/>
<rect x="529.4" y="109.35" width="9.9" height="2.88" fill="rgb(101, 157, 212)"/>
<rect x="529.4" y="112.22" width="9.9" height="2.88" fill="rgb(109, 162, 216)"/>
<rect x="529.4" y="115.08" width="9.9" height="2.88" fill="rgb(116, 168, 220)"/>
<rect x="529.4" y="117.94" width="9.9" height="2.88" fill="rgb(123, 174, 224)"/>
<rect x="529.4" y="120.81" width="9.9" height="2.88" fill="rgb(131, 179, 228)"/>
<rect x="529.4" y="123.67" width="9.9" height="2.88" fill="rgb(138, 185, 232)"/>
<rect x="529.4" y="126.53" width="9.9" height="2.88" fill="rgb(143, 188, 233)"/>
<rect x="529.4" y="129.39" width="9.9" height="2.88" fill="rgb(148, 191, 235)"/>
<rect x="529.4" y="132.26" width="9.9" height="2.88" fill="rgb(153, 195, 236)"/>
<rect x="529.4" y="135.12" width="9.9" height="2.88" fill="rgb(158, 198, 237)"/>
<rect x="529.4" y="137.98" width="9.9" height="2.88" fill="rgb(164, 201, 239)"/>
<rect x="529.4" y="140.85" width="9.9" height="2.88" fill="rgb(169, 204, 240)"/>
<rect x="529.4" y="143.71" width="9.9" height="2.88" fill="rgb(174, 208, 241)"/>
<rect x="529.4" y="146.57" width="9.9" height="2.88" fill="rgb(179, 211, 243)"/>
<rect x="529.4" y="149.44" width="9.9" height="2.88" fill="rgb(184, 214, 244)"/>
<line x1="529.4" y1="100.76" x2="539.3" y2="100.76" stroke="#ffffff" stroke-opacity="0.35" stroke-width="0.55"/>
<line x1="529.4" y1="103.63" x2="539.3" y2="103.63" stroke="#ffffff" stroke-opacity="0.35" stroke-width="0.55"/>
<line x1="529.4" y1="106.49" x2="539.3" y2="106.49" stroke="#ffffff" stroke-opacity="0.35" stroke-width="0.55"/>
<line x1="529.4" y1="109.35" x2="539.3" y2="109.35" stroke="#ffffff" stroke-opacity="0.35" stroke-width="0.55"/>
<line x1="529.4" y1="112.22" x2="539.3" y2="112.22" stroke="#ffffff" stroke-opacity="0.35" stroke-width="0.55"/>
<line x1="529.4" y1="115.08" x2="539.3" y2="115.08" stroke="#ffffff" stroke-opacity="0.35" stroke-width="0.55"/>
<line x1="529.4" y1="117.94" x2="539.3" y2="117.94" stroke="#ffffff" stroke-opacity="0.35" stroke-width="0.55"/>
<line x1="529.4" y1="120.81" x2="539.3" y2="120.81" stroke="#ffffff" stroke-opacity="0.35" stroke-width="0.55"/>
<line x1="529.4" y1="123.67" x2="539.3" y2="123.67" stroke="#ffffff" stroke-opacity="0.35" stroke-width="0.55"/>
<line x1="529.4" y1="126.53" x2="539.3" y2="126.53" stroke="#ffffff" stroke-opacity="0.35" stroke-width="0.55"/>
<line x1="529.4" y1="129.39" x2="539.3" y2="129.39" stroke="#ffffff" stroke-opacity="0.35" stroke-width="0.55"/>
<line x1="529.4" y1="132.26" x2="539.3" y2="132.26" stroke="#ffffff" stroke-opacity="0.35" stroke-width="0.55"/>
<line x1="529.4" y1="135.12" x2="539.3" y2="135.12" stroke="#ffffff" stroke-opacity="0.35" stroke-width="0.55"/>
<line x1="529.4" y1="137.98" x2="539.3" y2="137.98" stroke="#ffffff" stroke-opacity="0.35" stroke-width="0.55"/>
<line x1="529.4" y1="140.85" x2="539.3" y2="140.85" stroke="#ffffff" stroke-opacity="0.35" stroke-width="0.55"/>
<line x1="529.4" y1="143.71" x2="539.3" y2="143.71" stroke="#ffffff" stroke-opacity="0.35" stroke-width="0.55"/>
<line x1="529.4" y1="146.57" x2="539.3" y2="146.57" stroke="#ffffff" stroke-opacity="0.35" stroke-width="0.55"/>
<line x1="529.4" y1="149.44" x2="539.3" y2="149.44" stroke="#ffffff" stroke-opacity="0.35" stroke-width="0.55"/>
<line x1="534.4" y1="97.9" x2="534.4" y2="152.3" stroke="#ffffff" stroke-opacity="0.15" stroke-width="0.5"/>
<rect x="529.4" y="152.3" width="9.9" height="6.5" fill="#fbfcfe" stroke="#d0d0d0" stroke-width="0.5"/>
<rect x="529.4" y="92" width="9.9" height="66.8" fill="none" stroke="#c8c8c8" stroke-width="0.4"/>
</svg></body></html>
